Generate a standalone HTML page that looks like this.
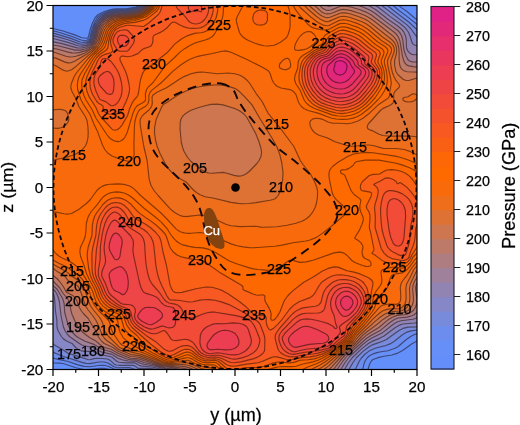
<!DOCTYPE html>
<html><head><meta charset="utf-8"><title>Pressure map</title>
<style>html,body{margin:0;padding:0;background:#fff}svg{display:block}text{font-family:"Liberation Sans", sans-serif;fill:#000;stroke:#000;stroke-width:0.25px}</style></head><body>
<svg width="520" height="425" viewBox="0 0 520 425">
<rect width="520" height="425" fill="#fff"/>
<defs><clipPath id="pc"><rect x="53" y="5.5" width="364" height="364"/></clipPath><filter id="sb" x="-2%" y="-2%" width="104%" height="104%"><feGaussianBlur stdDeviation="0.35"/></filter></defs>
<g clip-path="url(#pc)">
<g filter="url(#sb)">
<rect x="53" y="5.5" width="364" height="364" fill="#648ffa"/>
<path fill="#668ff8" fill-rule="evenodd" d="M140.6,4.5 141.6,3.5 396.8,3.5 401,7.4 407,11.5 414,17.5 419,21.2 419,339.9 412,343.7 402.6,350.5 397,353.4 392,355 384,356.3 379,357.4 373,359.5 371.7,360.5 370,363.2 368.8,366.5 367.6,371.5 114.3,371.5 109,369.3 104,368.4 100,368.4 89,369.6 83,369.3 76,367.8 64,363.8 60,363.1 53,362.9 51,362.4 51,28 63,31 74,34.6 82,37.7 87,38.3 88,37.7 88.5,36.5 90.5,28.5 93.1,21.5 96,16.5 99,14 105,11.3 110,9.9 116,8.9 124,9.1 128,8.6 137,6.7 139,5.8 140.6,4.5Z"/>
<path fill="#6c8dee" fill-rule="evenodd" d="M142.9,3.5 390.9,3.5 398,9.7 407,16.4 419,26 419,333.3 415,334.3 410.6,336.5 406,339.8 398.2,346.5 395,348.3 388,350.7 381,351.7 377,352.6 373,353.9 369.9,355.5 367.5,357.5 365.3,360.5 364.1,363.5 362.8,369.5 361.8,371.5 133.1,371.5 128,370.2 120,370.2 116,369.7 114,369.1 108,366.2 104,365.3 100,365.3 90,366.7 84,366.4 78,364.9 68.1,361.5 55,358.6 51,357.3 51,30.4 56,31.5 62,33.2 72,36.5 81,40 84,40.5 87,40.3 89,39 89.9,37.5 92.1,28.5 94.9,21.5 97.4,17.5 100,15.2 106,12.2 113,10.3 117,9.8 126,9.8 136,8 139.8,6.5 142.9,3.5Z"/>
<path fill="#788ada" fill-rule="evenodd" d="M143.3,4.5 144.1,3.5 385.1,3.5 393.5,10.5 409.3,22.5 419,31.6 419,329.7 411,330.9 407,332.1 402.8,334.5 394,341.5 390,343.9 386,345.5 375,348.3 369,351.1 364.6,354.5 361,358.5 359.1,361.5 356.3,367.5 353.8,371.5 159.1,371.5 154,370.4 151,370.1 146,370.2 139,370.7 137,370.4 132,368.2 130,367.7 127,367.5 119,367.8 116,367.5 113.4,366.5 108,363 104,362 99,362 90,363.6 85,363.2 63.6,356.5 56,353.5 51,351 51,32.8 55,33.6 70,38.1 80,42 84,42.4 87,41.9 89,40.8 90.8,38.5 93.5,28.5 95.4,23.5 98,19.1 101,16.2 107,13.1 113,11.3 117,10.8 127,10.5 137,8.7 140,7.4 143.3,4.5Z"/>
<path fill="#8587c6" fill-rule="evenodd" d="M144.5,4.5 145.3,3.5 379.1,3.5 392,13.6 405,23.2 410.6,28.5 416,35.8 419,38.6 419,326.2 416,326.9 408,327.1 403,328.4 399,330.5 386,339.7 382,341.5 373,344.6 369.5,346.5 363,351.4 356.6,357.5 353,362.5 347.8,371.5 167.8,371.5 162,370.7 152,368.6 146,368.3 139,368.4 138,368.2 135,366.1 133,365.3 119,365.3 116,365 114,363.9 110,360.2 108,359.3 105,358.7 97,358.2 94,358.6 90,359.7 87.8,359.5 76,355.6 69,353.8 62,349.3 55,345.3 52.7,343.5 51,341.2 51,35.3 55,36.1 68,39.8 79,43.9 83,44.2 86,43.8 89,42.3 91.5,39.5 92.4,37.5 94.7,28.5 96.3,24.5 99.4,19.5 102.9,16.5 108,13.8 113,12.3 117,11.8 127,11.4 137,9.6 141,7.8 144.5,4.5Z"/>
<path fill="#9184b2" fill-rule="evenodd" d="M145.8,4.5 146.5,3.5 372.4,3.5 379,7.8 390.1,16.5 401,24.3 406,28.7 407.4,30.5 409.1,33.5 412.5,43.5 414,44.8 419,46.1 419,321.7 417,322.6 415,323 405,323.7 402,324.3 399,325.4 395,327.8 384,336 380,338.1 372,341.4 368.4,343.5 361,349.4 352.4,357.5 348,363.5 343.4,371.5 175.7,371.5 171,370.5 162,369.5 153,367.2 141,365.9 139,365.2 135,362.9 126,362.9 121,362.5 118,361.9 116,360.9 112.4,357.5 110.2,356.5 99.7,354.5 97,353.5 93,351.3 91,351.2 85,351.5 83,351.2 80,350.2 76,347.7 72,343.4 65.6,340.5 64,339.4 62.1,337.5 58.4,331.5 57.2,328.5 56.8,325.5 56.9,320.5 55.4,310.5 54.6,298.5 54,295.5 53.1,293.5 51,291.5 51,38.2 55,39 67,42.1 78,45.8 82,46.1 86,45.4 89.5,43.5 92.2,40.5 93.2,38.5 95.6,29.5 97.1,25.5 100.2,20.5 103.5,17.5 108,15 113,13.4 117,12.7 128,12.1 137,10.5 140,9.3 142,8.1 145.8,4.5Z"/>
<path fill="#9f819b" fill-rule="evenodd" d="M147,4.5 147.8,3.5 364,3.5 370,6.2 375.5,9.5 388,19.2 397,25.5 401,28.7 403.5,31.5 405.4,35.5 406.3,39.5 406.5,47.5 407,49.3 408,51.2 410,53.3 412,54.4 414,54.7 419,54.5 419,316.2 416,318.2 413,319.3 401,320.8 397,322 393,324.5 382,333.1 371,338.6 367,341.1 363,344.3 349.6,356.5 345.1,362.5 339.6,371.5 181.8,371.5 172,369.3 162,368.3 154,366 144,364.3 141,363.5 136,361.3 127,360.9 120,359.2 118,358.2 113,355 111,354.1 101,351.7 93,347.5 85,346 81,344.5 69.5,336.5 67,333.8 64.9,330.5 63.3,326.5 61,315.5 59.5,302.5 58.6,298.5 57.1,294.5 55.4,291.5 53.5,289.5 51,287.9 51,41.3 62,43.6 77,47.9 82,48 86,47 90,44.8 93,41.5 94.3,38.5 96.8,29.5 98,26.4 101,21.5 104.2,18.5 109,15.8 113,14.5 118,13.7 129,12.9 134,12.1 138,11 141,9.8 143,8.5 147,4.5Z"/>
<path fill="#ae7d82" fill-rule="evenodd" d="M149,3.5 323.6,3.5 326,5.4 329,6.1 332,5.6 337.3,3.5 352,3.5 363,7 368,9.2 372,11.3 376,14 386,21.9 397.8,30.5 400.4,33.5 401.9,36.5 402.9,40.5 403.7,48.5 404.4,51.5 406,56 407.9,59.5 409,60.7 411,61.6 414,62 419,61.9 419,309.3 417.6,311.5 416,313.2 414,314.7 412,315.7 407,317.1 398,318 394.4,319.5 389.9,322.5 381,329.9 371,335.4 366,338.7 347.4,355.5 342.6,361.5 335.8,371.5 187.7,371.5 183,370 177,368.8 171,367.9 165,367.6 161,366.9 154,364.8 144,362.5 137,360 130,359.6 125,358.3 119,355.9 111,351.8 102,349.3 94,344.4 85.8,341.5 79.7,338.5 76.6,336.5 73.5,333.5 71.1,330.5 69,327 67.9,324.5 64.7,312.5 64.3,304.5 63,299.5 59.3,292.5 57.3,289.5 55.3,287.5 51,284.2 51,44.7 59,46 75,50.1 81,50.1 86,48.7 89,47.1 91,45.6 93.8,42.5 95.2,39.5 98,29.7 99,27.1 102,22.3 104.9,19.5 110,16.6 114,15.4 118,14.7 131,13.5 135,12.8 139,11.6 142,10.2 144.4,8.5 146.5,6.5 149,3.5Z"/>
<path fill="#be7a69" fill-rule="evenodd" d="M149.5,4.5 150.3,3.5 317.9,3.5 324,9.4 326,10.1 328,10.4 332,9.7 338,7 341,6.2 345,6 350,6.7 362,10.5 370,14.1 375,17.5 384,24.7 394.5,32.5 397.4,35.5 399.4,39.5 400.7,44.5 402.5,56.5 404,61.3 405,63.2 407,65.1 409,65.9 413,66.6 419,67.1 419,279.8 416.8,283.5 415.7,286.5 415.7,289.5 417,299.5 416.6,304.5 415.4,307.5 414.1,309.5 410.7,312.5 408,313.8 405,314.6 397,315.4 391.8,317.5 387,320.6 378.9,327.5 370,332.8 365,336.4 361,340 354,347.2 345.6,354.5 340.4,360.5 334,368.9 331.6,371.5 192.8,371.5 187.9,369.5 183,368.2 170,366.6 165,366.5 161,365.8 138,358.7 131,358.2 128.2,357.5 118,353.2 111,349.3 104,347.2 102.4,346.5 95,340.4 88.1,336.5 81,330.7 77.1,325.5 74,319.2 71.4,312.5 69.7,303.5 68,299.5 63.9,294.5 59,287.1 53.5,281.5 51,279.4 51,48.1 57,49 68,52.1 72,52.9 75,53 79,52.6 85,50.9 88,49.4 91,47.3 94.6,43.5 96.2,40.5 99,30.8 100.3,27.5 103,23.2 106,20.4 110,17.9 114.1,16.5 119,15.6 132,14.3 139,12.5 142,11.2 144.6,9.5 146.9,7.5 149.5,4.5Z"/>
<path fill="#cd7650" fill-rule="evenodd" d="M150.8,4.5 151.6,3.5 312.5,3.5 321.2,11.5 324,13.1 326,13.7 328,13.9 331,13.5 339,10.2 342,9.5 346,9.6 350,10.3 361,13.8 369,17.5 374,21 393,36.1 395,38.2 396.5,40.5 398.4,45.5 399,50.5 399.3,62.5 400,66 401.2,68.5 403,70.2 406,71.5 419,72.2 419,273.7 414.5,281.5 413,285.5 412.6,289.5 413.4,299.5 413.2,302.5 412.6,304.5 411.7,306.5 410.3,308.5 408,310.5 406.2,311.5 403,312.6 397,313.2 393,314.1 389.3,315.5 386,317.3 382.8,319.5 375.6,325.5 366,332.6 361,336.9 352.3,346.5 344,353.5 332,366.7 326.7,371.5 197.7,371.5 190,368.1 186,366.9 181,366.2 167,365.6 163,365.1 160,364.4 154,362.2 140,357.6 137,357 132,356.8 130,356.3 118,351.1 112,347.1 105,344 101.9,341.5 98.9,337.5 96.4,331.5 92.3,325.5 88.2,318.5 83.4,313.5 81,310.5 79.4,307.5 76.7,300.5 75,297.7 72.7,295.5 67,292.5 66,291.5 63.3,286.5 58.8,280.5 56.9,278.5 53,275.5 51,273.5 51,51.9 55.1,52.5 66,56.2 70,57 73,56.8 76,56.2 81,54.6 85,53 91,49.1 93.9,46.5 95.5,44.5 97.7,40.5 101.4,28.5 104,24.3 107,21.4 111,18.9 115,17.5 120,16.6 132,15.2 140,13.1 143,11.7 145,10.4 148.2,7.5 150.8,4.5Z"/>
<path fill="#de7234" fill-rule="evenodd" d="M152.9,3.5 307.4,3.5 310.2,6.5 319,14.1 322,16 325,17.3 327,17.6 330,17.3 339,13.6 342,12.9 346,13 351,14.1 362,17.9 369,21.6 391,39 394,42 395.9,45.5 396.7,49.5 396.4,53.5 394.6,60.5 394.7,66.5 396,71.7 397,73.5 399,75.9 403,79.2 406,80.5 409,80.5 416,78.3 419,78.5 419,268.4 417,270.5 415.7,272.5 410.2,284.5 409.5,289.5 409.9,299.5 409.1,303.5 408.2,305.5 406.8,307.5 405,309 403,310.1 400,311 394,311.4 389,312.4 384.1,314.5 380,317.2 360.5,334.5 358,337.1 353.9,342.5 351,345.6 342.7,352.5 329,365.6 321.2,371.5 203.7,371.5 199,369.8 191,366.3 187,365 182,364.6 169,364.7 164,364.2 160,363.2 141,356.1 138,355.4 133,355 130.9,354.5 118.8,349.5 113,344.8 107,340.8 105,338.9 102,334.5 98.5,325.5 96,320.5 93.4,316.5 87.8,309.5 85.8,306.5 84.1,302.5 80.2,290.5 78.2,286.5 77,285.5 70,282.1 68,280.3 64,275.3 58,272.1 53.4,268.5 51,267.2 51,57.1 56,58.1 65,62.1 68,62.9 71,62.7 75,61 87,54 92,50.1 95.7,46.5 97.3,44.5 98.9,41.5 102,31.5 103.2,28.5 106,24.5 109,21.8 113,19.6 117,18.3 133,16 141,13.7 144,12.2 147,10 150.6,6.5 152.9,3.5ZM211,104.4 206,105.5 198.8,107.5 191,110.3 188,111.9 185,113.9 183,115.8 181.8,117.5 180.9,119.5 180.2,122.5 180,128.5 181.3,142.5 182.6,147.5 184.1,151.5 187.6,157.5 191,161.5 201,169.5 206,172.4 209,173 212,173.2 223,172.4 226,173 234,175.4 238,176.1 241,176 244,175 246.6,173.5 249.2,171.5 256.9,163.5 259.1,160.5 261,156.4 261.6,152.5 261,148.5 258.9,141.5 255.7,133.5 246.9,117.5 244.4,114.5 241,111.8 238,110 234,108.2 223,104.9 217,104.1 211,104.4Z"/>
<path fill="#ee6e1c" fill-rule="evenodd" d="M153.7,4.5 154.3,3.5 302.4,3.5 308,9.2 316,16.1 320,19 324,21.1 327,21.7 329,21.4 339,17 341,16.5 344,16.3 347,16.7 351,17.7 358,20.1 363,22.2 366,23.8 370,26.5 382,36.5 390,42.2 392,44.1 393.6,46.5 394.2,48.5 394.2,51.5 390.9,60.5 390.7,63.5 391,66.5 392.1,71.5 393.5,75.5 396,80.4 399.2,84.5 399.6,85.5 399.5,86.5 399,87.5 395,91.3 394,93.1 393.6,95.5 393.9,100.5 393.2,102.5 392.5,103.5 389.7,105.5 383,108.4 380.4,110.5 368.7,123.5 367.5,125.5 367.3,127.5 367.7,128.5 369,129.5 372,130.6 379,134.2 383,135.5 390,136.3 401,135.9 412,136.2 416,136.8 419,138 419,264.2 415.5,267.5 413.8,269.5 410,277.8 406.9,283.5 406.3,285.5 405.9,288.5 406.1,297.5 405.9,300.5 405.1,303.5 403.1,306.5 401,308.1 399,308.8 392,308.7 387,309.4 383,310.8 380,312.7 373,318.9 366.9,325.5 358.7,333.5 356.9,335.5 352.7,341.5 349,345.4 327,363.7 322,367.2 314.7,371.5 212.8,371.5 210,370.5 202,368.7 191,363.9 187,362.8 183,362.7 171,363.8 167,363.6 163,362.8 142,354.6 139,353.7 132,352.4 126,349.9 121,348.2 118.5,346.5 109.6,337.5 107,334.5 105,331.6 104,329.5 102.8,323.5 101.5,320.5 99.6,317.5 93.1,309.5 90.3,305.5 88.6,301.5 85,290.1 83,286 81,283.1 78,280.3 72,276.3 66,271.4 51,263.1 51,128 58,128.4 61,127.8 63,126.9 65.1,125.5 67.1,123.5 68.3,121.5 68.8,119.5 68.6,117.5 67.5,113.5 66.4,111.5 65,110.5 62,109.6 59,109.2 51,110.1 51,64.4 53,64.7 55.4,65.5 62,69.6 65,70.8 67,71.1 69,70.8 72,69.5 76,66.4 90,53.9 97.7,46.5 99.1,44.5 100.7,41.5 103.5,32.5 104.7,29.5 106.6,26.5 109.6,23.5 113,21.2 117.3,19.5 122,18.5 133,17 142,14.4 145,12.8 148,10.5 151.3,7.5 153.7,4.5ZM209,85.4 202,86.3 196.2,87.5 191,89 186,91 180.8,93.5 174,97.5 167,102.6 164,104.1 162,106.3 156.1,119.5 154.6,127.5 154.5,132.5 155.4,139.5 157.2,146.5 160,153.5 165,163.2 169.1,169.5 174,174.6 178,177.5 186,181.9 192.9,189.5 196.4,192.5 200,194.7 205,196.7 214,198.3 231,202.4 238,203.4 243,203.7 249,203.5 256,202.6 270,200.3 273,199.5 275,198.7 276.5,197.5 278.2,195.5 280,191.5 282.6,180.5 283,172.5 281.9,163.5 279.8,154.5 277.2,147.5 272.3,138.5 259.9,118.5 252,104.9 245,97.1 239,91.2 236.8,89.5 234,88.1 227,86 218,84.8 209,85.4ZM411.5,94.5 413,93.9 415,94 416.1,94.5 417,95.5 417.2,96.5 416.8,98.5 414.7,100.5 412,101.6 408,102 405,101.4 403.6,100.5 403,99.8 402.8,98.5 404,97.5 408,96.8 411.5,94.5Z"/>
<path fill="#f96b0a" fill-rule="evenodd" d="M155.8,3.5 296.8,3.5 300.2,7.5 310.2,16.5 316,21.1 321,24.2 325,25.7 328,25.8 331,24.7 338,20.9 342,19.8 347,20.2 354,22.3 361,25.1 366.9,28.5 380.1,39.5 389,45.4 390.2,46.5 391.4,48.5 391.6,49.5 391.4,51.5 388.2,58.5 387.4,61.5 387.8,65.5 390.7,78.5 391.3,83.5 389.8,91.5 389.6,95.5 389,97.1 388,98.2 379,104.2 370,112.7 363,118.3 358,121 353,122.7 350,123.5 347,123.8 340,123.2 333,123.2 328,122 321,118.8 316,118.2 313,118.9 311,120.2 309.8,122.5 309.8,124.5 310.8,127.5 312,129.6 314,132 317,134.3 321,136 327,137.7 334,141.3 345,144.9 349,145.8 354,146.3 364,145 369,145 374,145.8 383,148.4 395,148.5 401,149 405,149.8 409,151.1 419,155.8 419,260.2 416,262.9 412.1,267.5 407,275.3 402.8,280.5 401.6,282.5 400.8,284.5 400.3,287.5 400.8,296.5 400.6,299.5 400.1,301.5 399,303.2 398,303.9 396,304.4 390,304 387,304.2 383,305.1 381,306.1 379,307.9 370,318.1 364.8,324.5 357,332.6 355,335.2 351.7,340.5 347.9,344.5 337,353.4 325,362 320,365.1 307.4,371.5 217.9,371.5 215,369.1 213,368.1 205,367.1 202,366.4 198,364.8 191,361.4 188,360.4 184,360.5 171,362.8 168,362.7 164,361.8 160.3,360.5 143,352.8 133,349.7 123,345.6 121.3,344.5 119.4,342.5 113.2,333.5 111.4,329.5 110,323.5 108.7,320.5 106.9,318.5 98.6,310.5 96.1,307.5 94,304.5 92.2,300.5 90,293.3 88.5,289.5 85.3,283.5 82,278.9 78,274.9 72,270.8 68,267.7 65,266 59.3,263.5 53,259.9 51,258.3 51,161 56,159.5 64,157.9 71,156 74.9,154.5 78.4,152.5 82.4,149.5 85.1,146.5 86.9,142.5 88,137.5 88.2,133.5 88.1,128.5 87.4,122.5 86.7,119.5 85,116 79.4,107.5 77.6,103.5 75.4,97.5 72.5,92.5 71.2,89.5 70.8,87.5 71.2,84.5 73.8,77.5 76.7,72.5 84,63.9 87.3,59.5 100.6,45.5 102.6,41.5 106.3,30.5 108.2,27.5 111,24.6 114,22.4 118.5,20.5 123,19.5 134,17.9 143,15.1 147,12.7 152,8.5 153.9,6.5 155.8,3.5ZM197,72.4 191,73.8 184,76.6 179,79.4 166.9,87.5 157,92.3 154,94.2 152.7,95.5 152,97 152.3,103.5 151.8,105.5 151,107.4 149,110 143,115 141.2,117.5 140.3,119.5 140,121.5 140.3,125.5 143.8,146.5 147.1,160.5 149.2,179.5 151,185.5 154,190.5 158.1,195.5 170,208.7 175,212.7 179,215 182,216.1 186,216.6 200,215 205,215.5 213,218.2 226.3,224.5 231,225.8 240,226.6 256,226.2 261,227.1 264,227.3 277,226.7 287,225.3 296,223.3 302,221.3 306.8,218.5 310.1,215.5 313,211.6 315,207.8 316.4,203.5 317.4,197.5 317.6,191.5 317,188 315,182.5 310.8,174.5 303,164.5 300.3,160.5 293.9,146.5 279.8,127.5 268,113.1 262.1,101.5 256,93.3 249.8,83.5 247,80.2 243.9,77.5 240,75.3 235,73.7 228,73 217,73.7 205,72.2 201,72.1 197,72.4Z"/>
<path fill="#ff6a00" fill-rule="evenodd" d="M156.7,4.5 157.2,3.5 291.9,3.5 296,10.4 299,14.3 308,24.3 310,26.1 312,27.4 314,28.1 321,29.8 325,30 328,29.5 330,28.8 337,24.9 340,23.6 344,23.3 348,24 357,27.1 363,30 367.8,33.5 378,42.2 386.2,47.5 387.7,49.5 387.9,51.5 387.3,53.5 384.6,59.5 384.2,61.5 384.5,63.5 386.5,71.5 387.3,77.5 387.2,82.5 386,87.3 383.5,92.5 381.5,95.5 379,98.5 370,107.6 361,114.6 356,117.1 349,119 341,119.4 335,118.9 330,117.7 317,112.8 308,110.5 303.8,108.5 301.4,106.5 299.2,103.5 298.3,101.5 296,94.6 294,92 292,90.5 289,89.3 282,88.2 279.4,87.5 277,86.3 275,84.5 272.4,80.5 270,73.3 267.8,70.5 264.7,68.5 255.1,63.5 233,53 228,51.2 224,50.9 198,56.4 193,58 189,59.8 185,62 180,65.5 173,71.1 161.5,82.5 152.7,89.5 150.7,91.5 149.5,93.5 149,94.9 148.8,100.5 148,103.5 146,106 140.1,109.5 139,110.5 137,114.2 135.6,118.5 134.8,122.5 134.4,127.5 133.9,143.5 134.2,153.5 133.8,155.5 133,157.7 131,160.2 130,160.8 128,161.2 124,160.4 117,158.1 112,156 108.3,153.5 105.5,150.5 103.2,146.5 98,132.6 94,124.2 90.1,114.5 83,103.5 80.4,98.5 78.2,91.5 77.4,87.5 77.4,83.5 78.1,79.5 79.2,76.5 80.8,73.5 90.2,59.5 94.2,54.5 100.6,48.5 103,45.5 104.7,41.5 107.8,31.5 109.8,28.5 112.7,25.5 116,23.2 120,21.5 124,20.5 134,19.2 144,16.1 147,14.3 154,8.6 155.7,6.5 156.7,4.5ZM287,58.3 285,58.9 283,60.2 280,63.5 279.3,65.5 279.3,66.5 279.6,67.5 280.7,68.5 283,69.4 286,69.6 288,69.1 290,67.5 290.5,66.5 290.7,64.5 290,61.2 289,59.2 288,58.4 287,58.3ZM308,31.5 306,32 303,33.6 300.8,35.5 298.3,38.5 296.1,42.5 294.9,45.5 294.5,48.5 295,49.7 296,50.3 299,50.4 304,49.6 307,48.7 310,47 314.4,43.5 316.3,41.5 316.7,40.5 316.5,38.5 315.6,36.5 314,34.3 311,31.8 308,31.5ZM364.3,152.5 368,152.4 373,152.8 398,156.7 403,158 408,159.8 419,164.7 419,255.8 415,259.5 410,266.3 407,269.6 405,271.3 402,272.9 394,274.2 391.7,275.5 390.1,278.5 387.7,286.5 386.3,289.5 384.6,291.5 378,296.4 376.5,298.5 375.4,305.5 374.2,308.5 372.4,311.5 364,322.3 356,331.1 354,333.9 350.7,339.5 348,342.6 336,352.2 324,359.9 318,363.1 308,366.9 300,370.7 296,371.1 286,370.9 279.6,371.5 221.8,371.5 217,366.7 215,365.3 213,364.8 206,364.9 202,364.2 198,362.6 191,358.6 189,357.8 187,357.7 184,358.1 171,361.7 169,361.7 166,361 160,358.7 136.9,347.5 133.3,345.5 126,340.3 124,338.5 122.4,336.5 120.7,333.5 119.4,330.5 117.5,320.5 117,318.9 116.1,317.5 114.7,316.5 109,314 105,311.6 101,308.3 98,304.7 95.2,299.5 92.7,291.5 91,287.9 84,275.8 79,268.7 75,264.9 71,262.1 61.2,257.5 58.1,255.5 55,252.6 51,247.6 51,212.7 53,212.1 56,212.1 64,213.8 67,214.1 70,213.8 73,212.8 80,208.5 88,202.1 91,198.7 96,191.5 100,187.7 103,185.9 106,184.9 109,184.3 113,184 119,183.9 124,184.4 128,185.4 132,187.4 135,189.8 141,195.8 161,213 166,218 176,228.9 179,231 183,232.6 188,233.3 199,232.6 204,233.1 212,235.6 227,242.3 233,244.5 241,246.6 249,247.6 255,247.6 274,246.3 281,245.3 293,242.7 305,241.2 310,240 317,236.9 323,232.9 343,216.5 344.7,214.5 345.6,212.5 345.8,210.5 345.7,209.5 344.6,207.5 342.9,205.5 336,199.4 334,196.9 332.8,194.5 330,182.3 329,175.5 329.3,171.5 330.8,168.5 332.6,166.5 338,162.3 349,155.8 355,153.8 364.3,152.5Z"/>
<path fill="#fe6706" fill-rule="evenodd" d="M158.8,3.5 223.8,3.5 223.1,14.5 222.3,18.5 216,31.7 214.2,34.5 212.4,36.5 210,38.1 207,39.4 198,42 194,43.4 186,47.8 180,52.1 173.6,58.5 164.6,66.5 153.1,82.5 148,87.4 146.6,89.5 145.4,93.5 145.6,99.5 145,101 143.2,102.5 138,105.2 136.5,106.5 135,108.5 133,113.2 127.2,132.5 125,137.1 123,139.5 121,140.9 118,141.6 115,141.1 113,140.3 111,139.1 109,137.3 107,134.8 97,119.9 95,116.3 91.4,108.5 85.7,99.5 83.6,94.5 82,88.5 81.7,83.5 81.9,80.5 82.5,78.5 85.3,72.5 91.6,61.5 94.2,57.5 97,54.2 103,49.2 105,46.8 109.4,32.5 111,29.9 114,26.7 117,24.5 121.8,22.5 125,21.8 134,20.7 145,17.3 148,15.4 155.6,9.5 157,7.6 158.8,3.5ZM244.3,4.5 245.3,3.5 285.2,3.5 286,4.1 288,6.3 288.9,8.5 289.8,12.5 290.2,16.5 290.2,24.5 289.9,28.5 288.1,34.5 286.5,37.5 282,41.3 277,44.1 273,45.5 268,46 263,45.6 257,44 249,40.7 244,37.8 241,34.9 239.4,32.5 236.2,20.5 236.5,18.5 237.8,15.5 242,7.5 244.3,4.5ZM338.8,27.5 342,26.7 346,27.1 354,29.6 360,32.2 365,35.6 375.5,44.5 382,48.7 383.5,50.5 384,52.5 383.6,54.5 381.2,60.5 381.3,62.5 383.9,70.5 384.6,76.5 384.4,79.5 383.9,82.5 381.8,87.5 375.3,97.5 370,103.4 366,107 360,111.4 356,113.5 351,115.2 345,116.2 338,116 332,114.9 314,108.2 309,105.5 306,102.7 304,99.7 300.3,90.5 295.7,83.5 294.5,79.5 295,75.5 297.6,68.5 298.3,61.5 299.1,59.5 300.4,57.5 303,55.2 310,51.2 314,48.2 321.4,44.5 322.5,43.5 323.1,42.5 323.2,38.5 324,36.5 324.8,35.5 327,33.9 338.8,27.5ZM361.9,160.5 366,160.1 380,160.2 397,163.4 403,165.2 411.2,168.5 416,171.3 419,174.1 419,250.7 416.6,253.5 413,257 411.5,260.5 410,262.7 408,264.9 405,267.2 403,267.9 401,268.1 395,267.1 392,267.2 385,268.8 383,269.5 381.6,270.5 381,272.5 381.9,279.5 381.4,283.5 380,286.2 376,291.4 374.3,294.5 373.2,298.5 372.7,303.5 372,306.5 370.8,309.5 369,312.5 363,320.4 355,329.6 350,338.1 347.2,341.5 335,351.2 323,358 315,361.3 303,364 296,366.2 292,366.6 283,366.5 279,366.8 275,367.6 264,370.8 258.2,371.5 247,371.2 243,371.5 226.8,371.5 225,370.7 223.3,369.5 218.6,364.5 216,362.6 214,362.2 207,362.9 202,362.1 198,360.3 191,355.6 189,354.9 187,354.9 184,355.5 172,360 170,360.3 168,360 162,357.8 151.9,352.5 143.7,347.5 139.5,344.5 137.6,342.5 134,337.3 128.4,333.5 125.6,330.5 123.5,326.5 121,317.5 119.2,314.5 117.5,313.5 110,310.9 106,308.6 102,305.1 98.7,300.5 97.3,297.5 94.7,289.5 89.3,279.5 86.2,272.5 83.7,264.5 80.3,255.5 79.8,252.5 80,249.5 80.8,246.5 84,239.8 85,236.8 85.8,232.5 86.5,222.5 87.5,218.5 89.4,214.5 92.1,210.5 97,204.8 100.8,199.5 103,197.1 105,195.5 108,193.7 111,192.6 114,192 119,192 124,193 128,194.8 132,197.5 144,208.3 155,216.8 161,221.9 167,228.5 170.7,234.5 174,238.7 177,241.6 180,243.6 184,245.2 190,246.6 195,247.4 203,247.9 209,249.4 215.7,252.5 226,259.1 230,261.2 238,264.3 250,268 255,269.1 263,270 270,270.3 275,269.9 279,268.5 286,262.5 288,261.1 290,260.3 293,260.4 300,262.4 306,261.9 313,260.2 334,252.9 339,252.1 342,252.4 345,253.7 347,255.4 351.9,260.5 356,263 365,266.2 368,266.5 370,266 370.7,265.5 371.1,264.5 371.1,263.5 370.3,261.5 369,260.3 365,258.5 363.8,257.5 362.5,255.5 362,252.5 363,247.5 362,244.3 360,241.9 355,238.5 354.8,237.5 359,230.9 362,224.2 363.2,220.5 363.2,217.5 360.6,211.5 359.8,208.5 359.9,205.5 360.9,200.5 360.5,199.5 359.6,198.5 355,195.3 352.4,192.5 350.6,189.5 345,175.7 344,174.5 342,173.8 341,173 340.4,171.5 340.6,170.5 341,170.2 346,169.6 350,167.8 353,165.5 355,162.6 356,161.9 361.9,160.5Z"/>
<path fill="#fa6013" fill-rule="evenodd" d="M160.9,3.5 217.9,3.5 217.6,11.5 216.8,15.5 215.8,18.5 214,22.4 212,25.7 210,28.2 208,30 206,31.2 203,32.3 196,33.1 191,34.5 185.7,36.5 182.1,38.5 175.4,43.5 167.4,52.5 158.5,59.5 154,63.8 147.8,67.5 145,69.7 143,72.6 141,78.2 140,82.3 138.8,91.5 138,94.9 137.2,96.5 133.7,100.5 131.4,104.5 129.7,108.5 128,114.5 127,116.8 122,125.1 119.1,128.5 117.7,129.5 116,130.1 114,130.1 113,129.8 111,128.1 100,116 98.5,113.5 95.9,107.5 90.7,99.5 88.5,95.5 86.7,90.5 85.7,84.5 85.9,80.5 87.4,75.5 90.1,69.5 94.8,60.5 96.7,57.5 99.6,54.5 105.7,50.5 107.5,48.5 108.1,46.5 108.6,41.5 110.5,34.5 111.9,31.5 114,29 118,25.9 123,23.9 127,23.1 135,22.4 144,20.1 146,19.2 148,18.1 157,11 158.6,8.5 159.5,5.5 160.9,3.5ZM257.7,10.5 261,9.9 264,10.3 266.2,11.5 267.5,13.5 267.4,20.5 266,23.2 264,24.5 261,25.1 257,24.7 254.8,23.5 253.3,21.5 252.7,18.5 253.5,14.5 255,12.3 257.7,10.5ZM339.8,30.5 343,30.1 346,30.6 353,32.8 358,35 362,37.6 371.4,45.5 379,50.9 380.1,52.5 380.2,54.5 378.3,59.5 377.8,61.5 378.1,62.5 381.2,68.5 381.8,71.5 382.1,74.5 381.5,80.5 380.5,83.5 379.1,86.5 377,90.1 373.2,95.5 366,103.5 361,107.6 355,110.7 348,112.8 342,113.6 336,113 329,111.1 318,107.1 314.9,105.5 312,103.4 308.2,99.5 305,94.1 300,83.5 299.2,80.5 298.9,77.5 299.2,73.5 300.9,64.5 302,61.5 304.1,58.5 307.5,55.5 314,50.7 321,47.6 322.7,46.5 325,43.7 327,38.9 329,36.6 335,32.7 339.8,30.5ZM385.5,170.5 390,169.6 395,169.9 401,171.3 405.9,173.5 408.8,175.5 411.8,178.5 419,189.5 419,241.6 416.7,247.5 412,254.7 409.9,259.5 407,262.4 404,263.8 401,264 386,262.2 382,260.4 375,255.1 372,253.5 372.3,252.5 373.8,250.5 374,249.5 370.4,231.5 369.5,228.5 369.4,225.5 370,218.5 369.8,214.5 369,211.9 366.8,208.5 366.3,206.5 367,204.5 371.1,196.5 371.7,193.5 371.1,192.5 370,192.1 364,191.2 361.7,190.5 360.8,189.5 360.4,188.5 360.5,185.5 361.2,183.5 362.6,181.5 369,175.8 371,174.9 373,174.4 378,174.2 380,173.8 385.5,170.5ZM111.6,198.5 115,197.8 119,197.9 123,198.9 126,200.4 131,204.3 137,210.8 140,213.6 152,221.9 157,225.8 162,230.5 165.5,234.5 166.4,236.5 169.3,245.5 170.6,248.5 173,251.7 177,255 181,256.7 189,258.6 193,259.3 200,259.9 202.3,260.5 205.8,262.5 219,271.9 241.9,285.5 242.8,286.5 243,289.5 244,290.1 253,294 256,295 258,295.3 263,294.8 264.5,295.5 264.9,296.5 264.8,299.5 265.2,301.5 269,307.9 270.6,311.5 271.2,314.5 270.8,318.5 271,319.5 272,320.2 273,320.3 274,319.9 275.5,318.5 277,316.6 280,311.8 283.1,303.5 285,299.5 288,295.5 293,290.6 303.4,282.5 314,276.5 322,271.3 328,268.4 334,266.9 338,267.1 347,270.8 354,272.1 360,273.9 368,277.5 370,278.7 372,280.5 372.9,282.5 372.9,284.5 371.2,293.5 370.3,303.5 368.8,308.5 367.2,311.5 363.7,316.5 353.6,328.5 349,337.1 346,340.7 336,348.8 333,350.8 322,356.2 318,357.8 314,358.9 308,359.8 300,360.2 295,362.1 291,362.8 287,362.8 280,362 277,362.2 273,363.1 264,366.2 260,367.2 256,367.5 246,367.6 237,369.2 233,369.5 229,369.1 226,368 219.9,362.5 218,361.3 216,360.5 214,360.3 209,360.9 206,360.9 201,359.7 197.1,357.5 192,353.5 189,352.3 187,352.1 184,352.7 174,357.3 171,358.3 168,358.1 165,357.1 161.8,355.5 153.5,350.5 146.4,345.5 142,341.5 136.9,335.5 130,329.7 127,325.6 123.6,316.5 122.5,314.5 121,312.9 118.7,311.5 110,307.9 107,306 104,303.4 101.7,300.5 100,297.5 96.7,288.5 92.5,280.5 90.4,275.5 88.7,268.5 87.4,258.5 87.2,253.5 88.1,247.5 91.9,235.5 92.3,225.5 93.2,220.5 94.6,216.5 96.2,213.5 102.9,204.5 107,200.7 109,199.5 111.6,198.5Z"/>
<path fill="#f85920" fill-rule="evenodd" d="M163.5,4.5 164.9,3.5 212.9,3.5 213.3,7.5 213,11.5 212.1,15.5 210.9,18.5 208.4,22.5 205,25.7 201.2,27.5 197,28.3 191,28.4 186,27.6 182,26.1 175,22.2 173,22 171,23.4 167.3,27.5 164,30.3 161,32.1 155.5,34.5 153.9,35.5 153.2,36.5 153,37.5 152.9,41.5 152.4,43.5 151.3,45.5 150.3,46.5 144,48.6 141,50.6 138,53.6 132,56 128,56.7 123,56.1 122,56.1 121,56.5 120.2,57.5 119.9,58.5 120.2,60.5 125.6,71.5 127,75.5 128.9,83.5 129.6,88.5 129,93.5 127.7,97.5 125.2,103.5 122,109.9 120,112.3 118,113.6 115,114.2 110,114.2 107,113.4 105,112.1 103.6,110.5 103.3,109.5 103.1,106.5 102.5,105.5 98,102.8 94.2,97.5 91.7,92.5 90.1,86.5 89.8,81.5 90.9,75.5 92.8,70.5 95.7,65.5 98,59.9 99.7,57.5 102,55.7 105,54.4 111,52.8 112.3,51.5 112.6,50.5 112.4,49.5 110.6,43.5 110.6,40.5 111.4,37.5 113,33.5 114.8,30.5 115.9,29.5 120,27.3 127,25.3 129,25.2 143,26.5 144,26.2 149,22.8 159,13.8 160.4,11.5 161.8,6.5 163.5,4.5ZM337.8,34.5 341,33.6 344,33.7 349,34.9 355,37.2 360,40.3 368.6,47.5 375,52.1 376.2,53.5 376.5,55.5 374.8,60.5 374.9,62.5 378.8,68.5 379.4,70.5 379.8,73.5 379.7,76.5 379,79.9 377.7,83.5 376,86.9 371,93.9 364,101.8 360,105.1 355,107.7 349,109.7 342,110.9 337,110.5 328,108 319,104.8 315,102.1 312.3,99.5 310,96.7 305,88.5 302.8,82.5 302,77.5 302,72.5 302.6,67.5 304,63.5 306.7,59.5 309.6,56.5 314,52.8 323,48.9 325,46.8 330.1,39.5 333,37.1 337.8,34.5ZM384.6,178.5 387,177.9 391,178.6 394.9,180.5 396.1,181.5 397.1,183.5 398,183.7 400,182.5 405,185.7 409,189.4 415.4,197.5 417.2,200.5 418.7,204.5 419,206 419,216.6 417.7,222.5 415.7,228.5 415.1,237.5 414.2,242.5 412.9,246.5 410.3,252.5 408.9,257.5 407,259.3 405,260.2 403,260.5 401,260.4 392,258.6 388,256.7 385,254.3 382.8,251.5 380.8,247.5 375.4,228.5 375,225.5 375.3,216.5 374.5,207.5 375,204.5 377.7,195.5 378.2,190.5 378,189.4 377,187.4 373.7,184.5 375.1,183.5 380,181.3 384.6,178.5ZM115.1,202.5 118,202.7 120,203.1 122,204 124.4,205.5 128,208.9 133,215.8 135,218 138,220.1 146,224.6 150.3,227.5 155.8,232.5 159.1,236.5 160.1,238.5 161,241.1 163.1,252.5 166.5,265.5 170,284.9 172,289.7 173.4,291.5 175,292.4 178,292.8 182,292.4 196,288.8 206,287 212,287.2 219,289.2 223,290.9 228,293.7 240,302 246,306.8 254,314.6 257,315.4 263,315.7 265,316.4 266,317.4 266.3,318.5 266.2,322.5 267.3,326.5 269,329.2 270,329.8 271,329.8 274,327.9 278,324.2 282,319.5 289.4,309.5 294,304.9 299,301.8 310,297.6 313,295.5 315,292.8 319.2,285.5 321,283.2 323,281.2 328,277.9 332,276 336,275 341,274.8 348,275.7 355,277.5 360,279.9 362.2,281.5 364.2,283.5 366.7,287.5 367.6,290.5 368.1,293.5 368.4,301.5 368,304.5 367,307.5 365,311.3 362.1,315.5 352,327.4 348,336 345.2,339.5 332.6,349.5 322,354.1 316,355.9 310,356.9 301,357.6 294,359.3 291,359.7 286,359.2 277,356.9 274,356.8 271,357.6 262,361.5 258,362.7 245,364.4 237,365.9 233,366.2 230,365.9 228,365.3 226,364.2 220.9,360.5 218,359.2 215,358.7 207,359.2 204,358.7 202,358 198,355.7 192,350.8 190,349.8 188,349.3 185,349.3 182,350.2 174,354.5 171.1,355.5 169,355.6 166,354.8 160.3,351.5 151.1,344.5 132,327.5 129.1,323.5 125.9,315.5 123.8,312.5 121,310.5 111,305.7 108,303.6 105.7,301.5 104,299.5 102,296.2 98.6,287.5 95,280.5 93.4,276.5 92.4,272.5 92,268.5 91.9,253.5 92.8,247.5 95.8,235.5 96.6,225.5 97.7,220.5 99.3,216.5 100.9,213.5 105.5,207.5 108,205.2 110,204 112,203.1 115.1,202.5Z"/>
<path fill="#f4522d" fill-rule="evenodd" d="M176.8,4.5 177.5,3.5 207.6,3.5 208.2,5.5 208.6,8.5 208,13.5 207,16 205.5,18.5 203.8,20.5 202,22 200,23.1 198,23.8 196,24 193,23.6 191,22.8 189,21.4 184.3,15.5 177.3,8.5 176.3,6.5 176.8,4.5ZM119.9,30.5 125,29.8 127,30.1 127.8,30.5 132.5,35.5 134.2,38.5 134.4,40.5 133.4,43.5 129,49.7 128,50.7 127,51.1 120,51.2 118,50.6 114.6,45.5 113.1,42.5 112.9,39.5 115,34.6 117,32 119.9,30.5ZM338.6,37.5 342,36.9 345,37.3 350,38.8 354,40.5 358,43 366,49.6 371.3,53.5 372.1,54.5 372.7,56.5 371.3,61.5 371.2,62.5 376.3,68.5 377.1,70.5 377.4,72.5 377.3,75.5 376.8,78.5 375.7,81.5 374,85 370,90.7 362.4,99.5 358.9,102.5 354,105 348,107 342,108 336.2,107.5 328,105.2 321,102.6 317,99.9 312,94.5 307.5,87.5 305.5,81.5 304.6,75.5 304.6,70.5 305.4,66.5 307.4,62.5 310.5,58.5 313.5,55.5 316,53.7 322.3,51.5 324.2,50.5 326,48.7 329,44.5 332,41.4 335,39.2 338.6,37.5ZM104.4,58.5 107,58.8 109,59.7 111.1,61.5 114,65.4 116.8,69.5 118.8,73.5 120.2,77.5 121.4,82.5 122,86.5 122.1,90.5 121.7,93.5 121,96.5 119.1,100.5 117,103.4 115,105 113,105.8 111,105.7 106,101.9 100,99.5 98.8,97.5 96.1,91.5 94.2,85.5 93.9,82.5 94,79.5 94.2,77.5 95,74.7 96.2,72.5 99.9,67.5 101,61.5 102,59.5 103,58.8 104.4,58.5ZM386.5,191.5 389,190.6 392,190.6 397,191.6 402,193.6 406,196.4 409,199.4 410.9,202.5 412.1,205.5 412.9,209.5 412.9,214.5 412.3,218.5 410.6,226.5 409.7,240.5 408.8,244.5 406,253.7 405,255.1 404,255.6 401,255.6 398,254.6 392,251.4 389.6,249.5 388,247.6 386.8,245.5 383.5,235.5 382,229.5 381.2,222.5 380.6,213.5 380.6,208.5 381.3,202.5 383,195.9 384.3,193.5 386.5,191.5ZM112.3,207.5 115,207 117,207.1 119,207.8 121,209 124.5,212.5 129.1,220.5 130.8,222.5 133,224 141,228 144,229.8 147.3,232.5 150.6,236.5 152.6,240.5 153.7,244.5 155.9,265.5 157,271.5 158.2,276.5 159.6,280.5 161.8,285.5 167,296.1 169,298.9 170,299.7 171,299.9 178,300.3 189,302 193,301.8 200,300.1 203,299.7 209,299.6 215,300.3 222,302.1 229,304.6 244,312.4 257.8,321.5 259.6,323.5 260.6,325.5 264,334.5 264.9,338.5 264.7,349.5 264.2,351.5 262.8,353.5 258.8,356.5 254,358.6 241,361.9 234,362.7 231,362.5 229,361.9 221.9,358.5 218,357.3 215,357 208,357.5 203.5,356.5 201,355.3 199,354 194,348.9 192,347.3 190,346.3 188,345.6 185,345.5 182,346.1 179,347.2 172,350.9 170,351.3 168,351.1 166,350.3 164,349.1 156,341.9 146,335.4 134.6,326.5 131.5,322.5 128.3,314.5 126.2,311.5 123.4,309.5 117,306.5 112,303.6 109,301.3 106,298.1 103.3,293.5 100.6,286.5 96.7,278.5 95.5,274.5 95.1,268.5 96.4,249.5 100.9,223.5 102.6,218.5 105.4,213.5 109,209.5 112.3,207.5ZM341.6,279.5 346,279.6 351,280.5 355,282 358.9,284.5 362.5,288.5 364.3,291.5 365.7,295.5 366.3,299.5 365.9,304.5 364,309.1 359.7,315.5 352.3,323.5 350,326.5 348.6,329.5 347.1,334.5 345.9,336.5 344,338.4 331.7,348.5 329,349.7 318,353.1 313,354 302,355.2 295,356.7 292,356.9 289,356.6 286,355.8 283.2,354.5 280.4,352.5 278.7,350.5 277.8,348.5 275.4,339.5 275.1,337.5 275.3,335.5 276,333.5 279.4,328.5 291,315.3 294,312.5 297,310.4 300,308.9 303,307.9 315,306.3 317,305.8 319,304.7 320.9,302.5 323.2,293.5 324.6,290.5 326.7,287.5 331,283.5 334,281.5 338,280 341.6,279.5Z"/>
<path fill="#f24b39" fill-rule="evenodd" d="M189.2,4.5 190.4,3.5 198.8,3.5 200,4.5 201.4,6.5 202,8.5 202,10.7 201,11.8 197,10.7 194,10.8 191,11.7 190,11.4 188.7,9.5 188.2,7.5 188.6,5.5 189.2,4.5ZM119.9,35.5 122,35.1 125,35.6 127,36.7 128.5,38.5 129,40.5 128.7,42.5 127.5,44.5 126,45.9 124,46.5 122,46.5 120,45.5 118.4,43.5 117.5,40.5 117.6,38.5 118.6,36.5 119.9,35.5ZM339.8,40.5 342,40.3 345,40.7 349,42 353,43.7 357,46.4 368,55.4 368.8,56.5 369,57.5 368.1,62.5 369.4,64.5 373.6,68.5 374.5,70.5 374.9,73.5 374.8,75.5 374,78.5 371.6,83.5 365.7,91.5 360,97.8 356.4,100.5 352,102.6 346,104.4 341,105 335,104.2 326,101.5 321.6,99.5 317.8,96.5 313,90.9 309.8,85.5 307.9,79.5 307.2,72.5 307.6,68.5 308.6,65.5 310.9,61.5 314.2,57.5 316,55.9 318,54.7 325.2,52.5 327,50.9 330.2,46.5 333,43.9 336.8,41.5 339.8,40.5ZM106.6,71.5 108,71.5 109,71.9 110.9,73.5 112.7,76.5 113.7,79.5 114.1,83.5 113.7,89.5 112.9,92.5 112,93.8 111,94.3 109,94.3 107,93.5 106,92.7 100.5,86.5 99,83.7 98.4,81.5 98.3,78.5 100,75.7 104,72.5 106.6,71.5ZM390.9,199.5 393,198.8 395,198.7 397,199.3 399.2,200.5 401.4,202.5 403,204.5 404.5,207.5 405.3,210.5 405.6,216.5 404,237.6 403,241.5 402,243.7 401,244.9 399,246 397,245.9 395.7,245.5 394.2,244.5 393,242.9 390.8,237.5 389,230 387.1,215.5 387,209.5 388,203.3 389,201.3 390.9,199.5ZM112.8,212.5 114,212.1 116,212.3 119,213.9 121.3,216.5 125.6,223.5 128,226.2 131,228.5 139,233.5 141,235.1 142.1,236.5 143.6,239.5 144.6,243.5 145.4,257.5 146.1,264.5 147.5,272.5 149.2,278.5 150.5,281.5 152.4,284.5 160,293.2 164.3,299.5 166,301.3 169,303 175,304.1 177,304.8 179,306 180.6,307.5 182,309.5 184,314.5 185,316 187,317.5 189,318.1 191,318.2 194,317.6 203,314 207,312.8 211,312.1 214,312 236,315.6 243,317.4 249,319.7 251.3,321.5 254.2,325.5 256.1,329.5 259.6,338.5 259.9,340.5 259.1,344.5 258,347.5 256,350.5 253,353.1 248.6,355.5 243,357.6 237,358.9 234,359.1 231,358.8 222,356 218,355.2 215,355.2 210,355.8 207,355.5 204,354.5 200.7,352.5 198.8,350.5 194,343.6 192,341.7 189,339.9 185,339.2 176,340.6 173,340.3 171,339.1 167.4,333.5 165,330.8 164,330.5 163,330.7 158,333 156,333.6 154,333.8 151,333.4 148,332.3 144,330.2 139,326.9 136.1,324.5 134.4,322.5 133,320.2 132,317.5 131,312.6 129.8,310.5 127,308.5 121,306.2 117.7,304.5 111,299.5 107.2,295.5 105.5,292.5 102.8,285.5 99.4,278.5 98.4,275.5 98.3,270.5 100.1,259.5 100.4,246.5 102,235.4 103,230.6 104.9,223.5 107,218.7 110,214.6 112.8,212.5ZM343,283.5 347,283.5 351,284.4 355,286.2 358,288.4 360.1,290.5 362,293.6 363.5,297.5 364.2,301.5 364,303.5 363,306.3 359,313 356,316.5 347.2,325.5 346.4,327.5 345.3,333.5 344.3,335.5 338,340.4 331,347.1 328,348.4 318,350.7 305,352.3 294,354.4 292,354.3 289,353.5 285,351.2 283,349.2 281.3,346.5 279.7,342.5 278.9,339.5 278.8,337.5 279.2,335.5 280.1,333.5 282.3,330.5 293,319.4 296,316.9 299,315.1 302,313.9 306,313.2 318,313 320.4,312.5 322.3,311.5 323.4,310.5 324.6,308.5 327.5,296.5 328.7,293.5 330.6,290.5 333,287.8 336,285.7 339,284.4 343,283.5Z"/>
<path fill="#ee4446" fill-rule="evenodd" d="M337.6,44.5 341,43.7 343,43.8 346,44.5 351,46.4 355.5,49.5 363.9,56.5 364.7,57.5 365.2,59.5 364.6,62.5 364.7,63.5 365.5,64.5 370.6,68.5 371.8,70.5 372.2,72.5 371.8,76.5 370,80.5 364,88.6 359,94.3 356,96.9 352,99.2 348,100.6 343,101.5 337,101.3 331,100 325,97.6 321,95 316.6,90.5 313.3,85.5 311.3,80.5 310.2,74.5 310.2,70.5 311.1,66.5 313,62.5 316,58.6 319,56.4 321,55.7 326,54.6 327,54 332.8,47.5 335,45.9 337.6,44.5ZM113.2,220.5 115,220.1 116,220.5 118,222.1 124,229 130.4,235.5 132.8,239.5 133.5,242.5 132.9,250.5 133.6,255.5 139.5,282.5 141,287.5 143,291.4 144.1,292.5 146,293.4 153,295.5 156,296.9 158,298.3 161.3,302.5 164,304.9 167,306.3 173,307.5 174.8,309.5 175.5,311.5 175.8,313.5 175.6,322.5 174.8,325.5 173,327.2 171,327.8 169,327.9 167,327.5 164,326.2 162,326.1 160,326.6 154,328.8 151,329.1 148,328.4 144,326.7 139,323.5 137,321.7 135.4,319.5 134.5,316.5 134.6,314.5 135.3,312.5 135.4,310.5 134.9,308.5 133.5,306.5 132,305.4 130,304.8 123,304.1 121,303.5 111.3,295.5 108.7,292.5 105.4,283.5 101.9,276.5 101.6,273.5 102.3,270.5 104.8,264.5 105.6,261.5 105.4,258.5 104.3,251.5 104.1,247.5 104.6,242.5 105.8,235.5 107,231.4 109,226.2 111,222.7 113.2,220.5ZM343,287.5 347,287.3 350,287.9 353,289.2 356,291.2 358.1,293.5 360.4,297.5 361.3,300.5 361.2,303.5 359,308.5 357,311.6 355,314 350,318.7 341.7,324.5 339.8,326.5 339.4,327.5 340.5,331.5 340,333.4 336,337.8 331.5,343.5 329.3,345.5 326.7,346.5 318,348 306,349.2 295,351.8 293,351.6 291,350.9 287.5,348.5 285,345.5 283,341.6 282.2,338.5 282.7,336.5 284.7,333.5 288,330.1 296,322.8 300,320.1 303,319.2 307,318.9 311,319.2 317.4,320.5 324,322.2 329,323.9 333,326.2 335,328.5 336.3,328.5 337.1,327.5 336.9,326.5 335.6,323.5 334.1,315.5 332.2,311.5 331.2,308.5 330.6,304.5 330.7,301.5 332.2,296.5 335,292.1 337,290.2 339,288.9 343,287.5ZM226.6,323.5 233,322.9 239,323.3 243.5,324.5 246.5,326.5 247.8,328.5 248.7,330.5 251.3,339.5 251.4,341.5 251,343.5 250.2,345.5 248.9,347.5 246,350.5 243,352.5 239,354.2 235,354.9 230,354.8 218,352.8 215,353 211,353.7 209,353.7 206,352.6 204.2,351.5 202.2,349.5 201.1,347.5 200.4,345.5 199.9,342.5 200.3,335.5 201.4,332.5 202.7,330.5 204.6,328.5 207,326.7 212,324.4 217,323.5 224,323.8 226.6,323.5Z"/>
<path fill="#ec3d53" fill-rule="evenodd" d="M338.5,47.5 342,47.1 346,48 350,49.7 353.9,52.5 360.6,58.5 361.3,60.5 361.5,63.5 363.3,65.5 367.4,68.5 368.7,70.5 369.2,72.5 368.9,75.5 367.4,78.5 360,88.1 357,91.5 354,94 351,95.7 347,97.2 343,97.9 338,97.9 332,96.7 327,94.7 323,92.1 319.4,88.5 316.6,84.5 314.4,79.5 313.4,74.5 313.3,70.5 314.2,66.5 316,62.5 318,59.9 319.7,58.5 321.6,57.5 327,56.3 328.6,55.5 334,50.1 336,48.7 338.5,47.5ZM114.2,233.5 116,233.1 117.3,233.5 119,234.8 121.1,237.5 121.9,239.5 122.2,241.5 122,244.5 121.1,248.5 120,256.2 118.9,258.5 118,259.3 117,259.7 115,259.4 114,258.3 110,251 109.1,247.5 109.5,243.5 111,238.4 112.4,235.5 114.2,233.5ZM117,267.5 120,266.5 121,266.7 123,267.9 125.8,271.5 127.4,275.5 128.3,281.5 128.1,286.5 127.4,289.5 126.5,291.5 125,293.7 124,294.4 123,294.6 122,294.4 119.2,292.5 116,291.3 114,290 112.2,287.5 110.8,283.5 109.2,276.5 109.1,274.5 109.4,273.5 110.7,271.5 112,270.2 114,268.9 117,267.5ZM344.1,291.5 346,291.2 348,291.4 350,292 352.6,293.5 354.7,295.5 356.2,297.5 357.2,299.5 357.6,301.5 357.5,303.5 356.9,305.5 355.8,307.5 352.9,311.5 349,315.1 347,316.1 345,316.5 343,316.1 342,315.5 340,313.4 336.5,307.5 335.5,303.5 336,299.5 336.8,297.5 338,295.6 341,292.8 344.1,291.5ZM145.7,307.5 148,307.2 153,307.5 155,308 157,309 160.4,311.5 162.1,313.5 162.6,315.5 162,317.5 160.1,319.5 155.9,322.5 153,324.1 151,324.7 148,324.3 142.2,321.5 138.6,318.5 137.6,316.5 137.7,315.5 140,311.9 142,309.6 144,308.1 145.7,307.5ZM303.4,326.5 307,326.2 311,327.2 317,329.5 325,333.4 327,334.8 328.4,336.5 328.8,338.5 328.2,340.5 327.4,341.5 326,342.5 323,343.3 309,344.4 296,347.4 293,346.7 291,345.1 289.1,342.5 288.4,339.5 289,337.5 291.3,334.5 295,331.3 300,328 303.4,326.5ZM222.1,330.5 225,330.2 229,330.8 232,331.7 235.1,333.5 237.4,336.5 238.9,340.5 238.9,343.5 238.1,345.5 237,346.8 235,348.2 233,349 230,349.7 225,349.9 218,349.3 211,349.9 209,349.3 208,348.5 207,346.5 207.1,344.5 208,342.4 212,336.9 214.2,334.5 218,332 222.1,330.5Z"/>
<path fill="#e8365f" fill-rule="evenodd" d="M340.7,50.5 344,50.9 347,51.9 350,53.7 353.5,56.5 357.3,60.5 357.8,61.5 358.1,64.5 359,65.6 364,68.8 365.2,70.5 365.7,72.5 365.4,74.5 364,77.2 356,86.8 353,89.8 350,91.7 347,92.9 344,93.7 340,94 335.8,93.5 331,92.1 327,90.1 323.8,87.5 321,84.2 318.8,80.5 317.5,76.5 316.9,71.5 317.2,68.5 318,65.5 319.5,62.5 321.3,60.5 324,59 329.8,57.5 336,52.1 338,51.1 340.7,50.5ZM344.6,296.5 347,296.1 349,296.6 351.3,298.5 352.1,299.5 352.9,301.5 352.9,303.5 351.6,306.5 349,309.3 347,310.3 345,309.9 343.2,308.5 341.2,305.5 340.6,303.5 340.6,301.5 341.4,299.5 343,297.5 344.6,296.5Z"/>
<path fill="#e62f6c" fill-rule="evenodd" d="M337.6,54.5 340,53.9 342,53.9 345,54.7 348.3,56.5 352.7,60.5 353.9,62.5 355.1,65.5 359.1,68.5 360.8,70.5 361.1,71.5 360.9,73.5 360,75.1 352,84.3 348,87.3 344,88.7 341,89 337,88.8 333,87.7 330,86.2 327,83.9 324.8,81.5 323,78.4 321.7,74.5 321.3,71.5 321.5,68.5 322.1,65.5 323.2,63.5 325.4,61.5 331,59.4 335,56 337.6,54.5Z"/>
<path fill="#e22879" fill-rule="evenodd" d="M337.8,57.5 340,57 342,57.2 345,58.2 347,59.5 349.8,62.5 351.6,66.5 353.4,68.5 354.4,70.5 354.5,71.5 353.7,73.5 348.7,79.5 346,81.5 342,82.8 340,83 337,82.6 334,81.6 332.2,80.5 329,77.3 327.9,75.5 326.9,72.5 326.8,68.5 327.9,65.5 334.4,59.5 337.8,57.5Z"/>
<path fill="#e02186" fill-rule="evenodd" d="M340,60.5 343,61.2 345,62.4 346.6,64.5 347.1,66.5 346.2,70.5 345,72.6 343,74.3 340,75.1 338,74.8 335.8,73.5 334.3,71.5 333.8,69.5 334.1,67.5 334.8,65.5 334.9,63.5 335.4,62.5 337,61.2 340,60.5Z"/>
<path fill="none" stroke="#140400" stroke-opacity="0.5" stroke-width="1.15" stroke-linejoin="round" d="M396.8,3.5 401,7.4 407,11.5 414,17.5 419,21.2M51,28 63,31 74,34.6 82,37.7 87,38.3 88,37.7 88.5,36.5 90.5,28.5 92.7,22.5 95.3,17.5 98.2,14.5 105,11.3 112,9.4 116,8.9 126,8.9 136,7 139,5.8 141.6,3.5M419,339.9 412,343.7 402.6,350.5 397,353.4 392,355 384,356.3 379,357.4 373,359.5 371.7,360.5 370,363.2 368.8,366.5 367.6,371.5M114.3,371.5 109,369.3 104,368.4 100,368.4 89,369.6 83,369.3 76,367.8 64,363.8 60,363.1 53,362.9 51,362.4M390.9,3.5 398,9.7 407,16.4 419,26M51,30.4 56,31.5 62,33.2 72,36.5 81,40 84,40.5 87,40.3 89,39 89.9,37.5 92.1,28.5 94.9,21.5 97.4,17.5 100,15.2 106,12.2 113,10.3 117,9.8 126,9.8 136,8 139.8,6.5 142.9,3.5M419,333.3 415,334.3 410.6,336.5 406,339.8 398.2,346.5 395,348.3 388,350.7 381,351.7 377,352.6 373,353.9 369.9,355.5 367.5,357.5 365.3,360.5 364.1,363.5 362.8,369.5 361.8,371.5M133.1,371.5 128,370.2 120,370.2 116,369.7 114,369.1 108,366.2 104,365.3 100,365.3 90,366.7 84,366.4 78,364.9 68.1,361.5 55,358.6 51,357.3M385.1,3.5 393.5,10.5 409.3,22.5 419,31.6M51,32.8 55,33.6 70,38.1 80,42 84,42.4 87,41.9 89,40.8 90.8,38.5 93.5,28.5 95.4,23.5 98,19.1 101,16.2 107,13.1 113,11.3 117,10.8 127,10.5 137,8.7 139,7.9 141,6.7 144.1,3.5M419,329.7 411,330.9 407,332.1 402.8,334.5 394,341.5 390,343.9 386,345.5 375,348.3 369,351.1 364.6,354.5 361,358.5 359.1,361.5 356.3,367.5 353.8,371.5M159.1,371.5 154,370.4 151,370.1 138,370.6 136,370 132,368.2 129,367.6 117,367.7 114,366.8 108,363 104,362 99,362 90,363.6 86,363.4 82,362.4 63.6,356.5 56,353.5 51,351M379.1,3.5 407,24.9 410.6,28.5 416,35.8 419,38.6M51,35.3 55,36.1 68,39.8 79,43.9 83,44.2 86,43.8 89,42.3 91.5,39.5 92.4,37.5 94.7,28.5 96.3,24.5 99.4,19.5 102.9,16.5 108,13.8 113,12.3 117,11.8 127,11.4 137,9.6 139,8.9 141.4,7.5 143.7,5.5 145.3,3.5M419,326.2 416,326.9 408,327.1 403,328.4 399,330.5 386,339.7 382,341.5 373,344.6 369.5,346.5 363,351.4 356.6,357.5 353,362.5 347.8,371.5M167.8,371.5 162,370.7 152,368.6 146,368.3 139,368.4 138,368.2 135,366.1 133,365.3 119,365.3 116,365 114,363.9 110,360.2 108,359.3 105,358.7 97,358.2 94,358.6 90,359.7 87.8,359.5 76,355.6 68.4,353.5 62,349.3 54,344.7 52.7,343.5 51,341.2M372.4,3.5 379,7.8 390,16.4 400,23.5 404,26.7 406.6,29.5 408.6,32.5 410.2,36.5 412,42.4 413,44.1 415,45.2 419,46.1M51,38.2 55,39 67,42.1 78,45.8 82,46.1 86,45.4 89.5,43.5 92.2,40.5 93.2,38.5 95.6,29.5 97.1,25.5 100.2,20.5 103.5,17.5 108,15 113,13.4 117,12.7 128,12.1 134,11.2 138,10.2 141,8.8 142.8,7.5 146.5,3.5M419,321.7 417,322.6 415,323 405,323.7 402,324.3 399,325.4 395,327.8 384,336 380,338.1 372,341.4 368.4,343.5 361,349.4 352.4,357.5 348,363.5 343.4,371.5M175.7,371.5 171,370.5 162,369.5 153,367.2 141,365.9 139,365.2 135,362.9 127,362.9 119,362.2 117,361.5 112.4,357.5 110.2,356.5 99.7,354.5 97,353.5 93,351.3 84,351.4 81,350.6 78,349.2 75.7,347.5 72,343.4 66,340.7 63,338.5 61.4,336.5 57.9,330.5 56.9,326.5 56.9,320.5 55.4,310.5 54.6,298.5 54,295.5 53.1,293.5 51,291.5M364,3.5 370,6.2 375.5,9.5 388,19.2 397,25.5 401,28.7 403.5,31.5 405.4,35.5 406.3,39.5 406.5,47.5 407,49.3 408,51.2 410,53.3 412,54.4 414,54.7 419,54.5M51,41.3 62,43.6 77,47.9 82,48 86,47 90,44.8 93,41.5 94.3,38.5 96.8,29.5 98,26.4 101,21.5 104.2,18.5 109,15.8 113,14.5 118,13.7 129,12.9 134,12.1 138,11 141,9.8 143,8.5 145.2,6.5 147.8,3.5M419,316.2 416,318.2 413,319.3 401,320.8 397,322 393,324.5 382,333.1 371,338.6 367,341.1 363,344.3 349.6,356.5 345.1,362.5 339.6,371.5M181.8,371.5 172,369.3 162,368.3 154,366 144,364.3 141,363.5 136,361.3 128,361 122,359.8 118,358.2 113.8,355.5 111,354.1 102,352.1 99,350.8 93,347.5 84,345.7 82,345 79,343.3 69.5,336.5 67,333.8 64.9,330.5 63.3,326.5 61,315.5 59.5,302.5 58.6,298.5 57.1,294.5 55.4,291.5 53.5,289.5 51,287.9M323.6,3.5 326,5.4 329,6.1 332,5.6 337.3,3.5M352,3.5 363,7 368,9.2 372,11.3 376,14 386,21.9 397.8,30.5 400.4,33.5 401.9,36.5 402.9,40.5 403.7,48.5 404.4,51.5 406,56 407.9,59.5 409,60.7 411,61.6 414,62 419,61.9M51,44.7 59,46 75,50.1 81,50.1 86,48.7 89,47.1 91,45.6 93.8,42.5 95.2,39.5 98,29.7 99,27.1 102,22.3 104.9,19.5 110,16.6 114,15.4 118,14.7 131,13.5 135,12.8 139,11.6 142,10.2 144.4,8.5 146.5,6.5 149,3.5M419,309.3 417.6,311.5 416,313.2 414,314.7 412,315.7 407,317.1 398,318 394.4,319.5 389.9,322.5 381,329.9 371,335.4 366,338.7 347.4,355.5 342.6,361.5 335.8,371.5M187.7,371.5 183,370 177,368.8 171,367.9 165,367.6 161,366.9 154,364.8 144,362.5 137,360 130,359.6 127,359 119,355.9 111,351.8 102,349.3 94,344.4 85,341.2 78,337.5 75.4,335.5 72.6,332.5 70,328.8 68.3,325.5 64.7,312.5 64.1,303.5 62.6,298.5 57.3,289.5 55.3,287.5 51,284.2M317.9,3.5 323,8.6 326,10.1 328,10.4 331,10 340,6.4 343,6 346,6.1 351,7 360,9.7 366,12.1 371,14.7 393.3,31.5 395.6,33.5 397.4,35.5 399,38.5 400,41.4 402.5,56.5 404,61.3 405.2,63.5 407,65.1 409,65.9 413,66.6 419,67.1M51,48.1 57,49 68,52.1 72,52.9 75,53 79,52.6 85,50.9 88,49.4 91,47.3 94.6,43.5 96.2,40.5 99,30.8 100.3,27.5 103,23.2 106,20.4 110,17.9 114.1,16.5 119,15.6 132,14.3 136,13.4 140,12.1 143,10.6 145,9.2 147.8,6.5 150.3,3.5M419,279.8 416.8,283.5 415.7,286.5 415.7,289.5 417,299.5 416.8,303.5 415.4,307.5 413.3,310.5 410.7,312.5 407,314.1 404,314.8 397,315.4 391.8,317.5 387,320.6 378.9,327.5 371,332.2 366,335.6 362,339 353.7,347.5 345.6,354.5 340.4,360.5 334,368.9 331.6,371.5M192.8,371.5 188,369.5 184,368.4 171,366.7 162,366 138,358.7 131,358.2 129,357.7 118,353.2 111,349.3 104,347.2 102.4,346.5 95,340.4 89.5,337.5 85.5,334.5 81.8,331.5 79,328.3 76,323.5 72.1,314.5 70.9,310.5 69.7,303.5 68.6,300.5 67.3,298.5 63.2,293.5 59.4,287.5 54,282 51,279.4M312.5,3.5 321,11.4 323,12.7 325,13.5 327,13.9 330,13.7 333,12.8 340,9.9 343,9.4 346,9.6 351,10.6 360,13.5 365.1,15.5 370,18.2 374,21 392,35.2 394,37.1 396,39.6 397.8,43.5 398.7,47.5 399.1,51.5 399.1,59.5 399.6,64.5 400.6,67.5 402,69.4 404,70.8 407,71.7 419,72.2M51,51.9 55.1,52.5 66,56.2 70,57 73,56.8 76,56.2 81,54.6 85,53 91,49.1 93.9,46.5 95.5,44.5 97.7,40.5 101.4,28.5 104,24.3 107,21.4 111,18.9 115,17.5 120,16.6 132,15.2 140,13.1 143,11.7 146,9.6 149.2,6.5 151.6,3.5M419,273.7 414.5,281.5 413,285.5 412.6,289.5 413.4,297.5 413.3,301.5 412.2,305.5 410.3,308.5 408,310.5 405,312 402,312.8 395.3,313.5 391,314.8 387,316.7 383,319.4 376.9,324.5 367,331.8 362,336 353.3,345.5 344,353.5 332,366.7 326.7,371.5M197.7,371.5 190,368.1 186,366.9 181,366.2 167,365.6 163,365.1 160,364.4 154,362.2 140,357.6 137,357 130.7,356.5 118.7,351.5 112,347.1 104.2,343.5 101.9,341.5 99.5,338.5 98.3,336.5 96.4,331.5 92.3,325.5 88.2,318.5 83.4,313.5 81,310.5 79.4,307.5 76.7,300.5 75,297.7 72.7,295.5 67,292.5 66,291.5 63.3,286.5 58.8,280.5 56.9,278.5 53,275.5 51,273.5M307.4,3.5 310.2,6.5 319,14.1 322,16 325,17.3 327,17.6 330,17.3 340,13.3 342,12.9 345,12.9 350,13.8 359,16.8 365,19.3 369,21.6 391,39 393,40.8 395,43.6 396.2,46.5 396.7,50.5 396.4,53.5 394.6,60.5 394.6,65.5 395.9,71.5 398,74.8 403,79.2 406,80.5 409,80.5 416,78.3 419,78.5M51,57.1 56,58.1 65,62.1 68,62.9 71,62.7 75,61 87,54 92,50.1 95.7,46.5 97.3,44.5 98.9,41.5 102,31.5 103.2,28.5 106,24.5 109,21.8 113,19.6 117,18.3 133,16 141,13.7 144,12.2 147,10 150.6,6.5 152.9,3.5M211,104.4 206,105.5 198.8,107.5 191,110.3 188,111.9 185,113.9 183,115.8 181.8,117.5 180.9,119.5 180.2,122.5 180,128.5 181.3,142.5 182.6,147.5 184.1,151.5 187.6,157.5 191,161.5 201,169.5 206,172.4 209,173 212,173.2 223,172.4 226,173 234,175.4 238,176.1 241,176 244,175 246.6,173.5 249.2,171.5 256.9,163.5 259.1,160.5 261,156.4 261.6,152.5 261,148.5 258.9,141.5 255.7,133.5 246.9,117.5 244.4,114.5 241,111.8 238,110 234,108.2 223,104.9 217,104.1ZM419,268.4 417,270.5 415.7,272.5 410.2,284.5 409.5,288.5 409.9,297.5 409.6,301.5 408.7,304.5 406.8,307.5 404.2,309.5 402.1,310.5 400,311 394,311.4 390,312.1 385,314 381,316.5 376,320.6 360.5,334.5 358,337.1 353.9,342.5 351,345.6 342.7,352.5 329,365.6 321.2,371.5M203.7,371.5 199,369.8 191,366.3 187,365 183,364.6 168,364.7 161,363.5 141,356.1 138,355.4 131,354.6 125,351.9 120,350.1 118,349 113,344.8 106.7,340.5 104.6,338.5 103.1,336.5 101.6,333.5 98,324.4 96,320.5 93,316 87.8,309.5 85.3,305.5 81,292.5 79.3,288.5 78.2,286.5 77,285.5 70,282.1 68,280.3 64,275.3 58,272.1 53.4,268.5 51,267.2M302.4,3.5 308,9.2 316.5,16.5 321,19.6 325,21.4 327,21.7 329,21.4 339,17 341,16.5 344,16.3 347,16.7 350.4,17.5 362,21.7 366,23.8 370,26.5 381.9,36.5 390,42.2 392,44.1 393,45.5 394,47.5 394.3,50.5 393.6,53.5 390.9,60.5 390.7,63.5 391.2,67.5 392.4,72.5 393.9,76.5 396,80.4 399.2,84.5 399.6,85.5 399.5,86.5 399,87.5 395,91.3 394,93.1 393.6,95.5 393.9,100.5 393.2,102.5 392.5,103.5 389.7,105.5 383,108.4 380.4,110.5 368.7,123.5 367.5,125.5 367.3,127.5 367.7,128.5 369,129.5 372,130.6 379,134.2 383,135.5 390,136.3 401,135.9 412,136.2 416,136.8 419,138M51,64.4 53,64.7 55.4,65.5 62,69.6 65,70.8 67,71.1 69,70.8 72,69.5 76,66.4 90,53.9 97.7,46.5 99.1,44.5 100.7,41.5 103.5,32.5 104.7,29.5 106.6,26.5 109.6,23.5 113,21.2 117.3,19.5 122,18.5 133,17 142,14.4 145,12.8 149.1,9.5 152.2,6.5 154.3,3.5M209,85.4 202,86.3 196.2,87.5 191,89 186,91 180.8,93.5 174,97.5 167,102.6 164,104.1 162,106.3 156.1,119.5 154.6,127.5 154.5,132.5 155.4,139.5 157.2,146.5 160,153.5 165,163.2 169.1,169.5 174,174.6 178,177.5 186,181.9 192.9,189.5 196.4,192.5 200,194.7 205,196.7 214,198.3 231,202.4 238,203.4 243,203.7 249,203.5 256,202.6 270,200.3 273,199.5 275,198.7 276.5,197.5 278.2,195.5 280,191.5 282.6,180.5 283,172.5 281.9,163.5 279.8,154.5 277.2,147.5 272.3,138.5 259.9,118.5 252,104.9 245,97.1 239,91.2 236.8,89.5 234,88.1 227,86 218,84.8ZM411.5,94.5 413,93.9 415,94 416.1,94.5 417,95.5 417.2,96.5 416.8,98.5 414.7,100.5 412,101.6 408,102 405,101.4 403.6,100.5 403,99.8 402.8,98.5 404,97.5 408,96.8ZM51,128 58,128.4 61,127.8 63,126.9 65.1,125.5 67.1,123.5 68.3,121.5 68.8,119.5 68.6,117.5 67.5,113.5 66.4,111.5 65,110.5 62,109.6 59,109.2 51,110.1M419,264.2 415.5,267.5 413.8,269.5 410,277.8 406.9,283.5 406.3,285.5 405.9,288.5 406.1,297.5 405.9,300.5 405.1,303.5 403.1,306.5 401,308.1 399,308.8 392,308.7 387,309.4 383,310.8 380,312.7 373,318.9 366.9,325.5 358.7,333.5 356.9,335.5 352.7,341.5 349,345.4 327,363.7 322,367.2 314.7,371.5M212.8,371.5 210,370.5 202,368.7 191,363.9 187,362.8 183,362.7 171,363.8 167,363.6 163,362.8 142,354.6 139,353.7 132,352.4 120,347.8 108.6,336.5 105,331.6 104,329.5 102.8,323.5 101.5,320.5 99.6,317.5 93.1,309.5 90.3,305.5 88.6,301.5 85,290.1 83,286 81,283.1 78,280.3 72,276.3 66,271.4 51,263.1M296.8,3.5 300.2,7.5 311.4,17.5 318,22.5 323,25.1 326,25.8 329,25.6 338,20.9 341,20 343,19.8 346,20 350,21 357,23.4 361.9,25.5 368.2,29.5 381.4,40.5 389,45.4 390.9,47.5 391.6,49.5 391.1,52.5 388.2,58.5 387.4,61.5 387.8,65.5 390.7,78.5 391.3,83.5 389.8,91.5 389.6,95.5 389,97.1 388,98.2 379,104.2 370,112.7 363,118.3 358,121 352,123 347,123.8 340,123.2 333,123.2 328,122 322.9,119.5 320,118.6 316,118.2 313,118.9 310.7,120.5 310.1,121.5 309.8,123.5 310.4,126.5 312.6,130.5 315,132.9 319,135.2 327,137.7 335,141.7 346,145.2 351,146.1 355,146.3 364,145 369,145 374,145.8 383,148.4 395,148.5 401,149 405,149.8 409,151.1 419,155.8M197,72.4 191,73.8 184,76.6 179,79.4 166.9,87.5 157,92.3 154,94.2 152.7,95.5 152,97 152.3,103.5 151.8,105.5 151,107.4 149,110 143,115 141.2,117.5 140.3,119.5 140,121.5 140.3,125.5 143.8,146.5 147.1,160.5 149.2,179.5 151,185.5 154,190.5 158.1,195.5 170,208.7 175,212.7 179,215 182,216.1 186,216.6 200,215 205,215.5 213,218.2 226.3,224.5 231,225.8 240,226.6 256,226.2 261,227.1 264,227.3 277,226.7 287,225.3 296,223.3 302,221.3 306.8,218.5 310.1,215.5 313,211.6 315,207.8 316.4,203.5 317.4,197.5 317.6,191.5 317,188 315,182.5 310.8,174.5 303,164.5 300.3,160.5 293.9,146.5 279.8,127.5 268,113.1 262.1,101.5 256,93.3 249.8,83.5 247,80.2 243.9,77.5 240,75.3 235,73.7 228,73 217,73.7 205,72.2 201,72.1ZM51,161 56,159.5 65.8,157.5 75,154.5 79.9,151.5 83,148.9 85.7,145.5 87,142.2 88,137.5 88.2,132.5 87.9,126.5 87,120.3 85.3,116.5 78.9,106.5 75.8,98.5 72,91.5 71,88.5 70.8,86.5 71.4,83.5 74.2,76.5 76,73.5 88.1,58.5 99,47.5 100.6,45.5 102.6,41.5 106.3,30.5 108.2,27.5 111.1,24.5 114,22.4 118.5,20.5 123,19.5 134,17.9 143,15.1 147,12.7 152,8.5 153.9,6.5 155.8,3.5M419,260.2 416,262.9 412.1,267.5 407,275.3 402.8,280.5 401.6,282.5 400.8,284.5 400.3,287.5 400.8,296.5 400.6,299.5 400.1,301.5 399,303.2 398,303.9 396,304.4 390,304 387,304.2 383,305.1 381,306.1 379,307.9 370,318.1 364.8,324.5 357,332.6 355,335.2 351.7,340.5 347.9,344.5 337,353.4 325,362 320,365.1 307.4,371.5M217.9,371.5 215,369.1 213,368.1 205,367.1 202,366.4 198,364.8 191,361.4 188,360.4 184,360.5 171,362.8 168,362.7 164,361.8 160.3,360.5 143,352.8 132.5,349.5 122,345 120.3,343.5 118.7,341.5 112.7,332.5 111.1,328.5 109.7,322.5 108.7,320.5 106.9,318.5 98.6,310.5 96.1,307.5 94,304.5 92.2,300.5 90,293.3 88.5,289.5 85.3,283.5 82,278.9 78,274.9 72,270.8 68,267.7 65,266 59.3,263.5 53,259.9 51,258.3M291.9,3.5 296,10.4 299,14.3 308,24.3 310,26.1 312,27.4 314,28.1 321,29.8 325,30 328,29.5 330,28.8 337,24.9 340,23.6 344,23.3 348,24 357,27.1 363,30 367.8,33.5 377.1,41.5 384.9,46.5 387.1,48.5 387.9,50.5 387.6,52.5 384.6,59.5 384.2,61.5 384.5,63.5 386.5,71.5 387.2,76.5 387.3,81.5 386.6,85.5 384.6,90.5 381.5,95.5 378.1,99.5 372,105.7 368,109.3 361.2,114.5 357,116.7 353,118.1 348,119.2 342,119.4 336,119 331,118 318,113.1 308,110.5 303.8,108.5 301.4,106.5 299.2,103.5 298.3,101.5 296,94.6 294,92 292,90.5 290,89.6 281,88 277,86.3 275,84.5 273.5,82.5 272,79.5 270.1,73.5 269,71.7 267.8,70.5 262.9,67.5 247,59.5 231,52.2 226,50.9 222,51.2 212.3,53.5 200,55.9 195,57.3 190,59.3 186,61.4 181,64.8 173,71.1 161.5,82.5 152,90.1 150,92.4 148.9,95.5 148.8,100.5 148,103.5 146,106 140.1,109.5 139,110.5 137.8,112.5 136.2,116.5 134.9,121.5 134.4,126.5 133.9,143.5 134.1,154.5 133.1,157.5 131.8,159.5 130,160.8 128,161.2 122,159.8 112,156 108,153.3 104.8,149.5 102.3,144.5 98,132.6 94,124.2 90.1,114.5 83,103.6 80.8,99.5 77.7,89.5 77.3,85.5 77.7,81.5 78.4,78.5 80.2,74.5 90.2,59.5 94.2,54.5 101,48.1 103,45.5 104.7,41.5 107.8,31.5 109,29.5 111.7,26.5 115.4,23.5 120,21.5 124,20.5 134,19.2 144,16.1 147,14.3 154.1,8.5 155.7,6.5 157.2,3.5M308,31.5 306,32 303,33.6 300.8,35.5 298.3,38.5 296.1,42.5 294.9,45.5 294.5,48.5 295,49.7 296,50.3 299,50.4 304,49.6 307,48.7 310,47 314.4,43.5 316.3,41.5 316.7,40.5 316.5,38.5 315.6,36.5 314,34.3 311,31.8ZM287,58.3 285,58.9 283,60.2 280,63.5 279.3,65.5 279.3,66.5 279.6,67.5 280.7,68.5 283,69.4 286,69.6 288,69.1 290,67.5 290.5,66.5 290.7,64.5 290,61.2 289,59.2 288,58.4ZM51,212.7 53,212.1 56,212.1 64,213.8 67,214.1 70,213.8 72,213.2 79,209.2 87,203 90.4,199.5 96.9,190.5 99,188.5 102,186.4 106,184.9 110,184.2 118,183.9 124,184.4 129,185.8 131,186.8 134,188.9 140.6,195.5 161,213 166,218 176,228.9 178,230.4 181,232 184,232.9 187,233.3 191,233.3 200,232.5 205,233.3 212,235.6 231,243.9 237,245.7 243,246.9 249,247.6 254,247.7 275,246.2 282,245.1 293,242.7 306,241 310,240 314,238.4 318,236.4 323,232.9 332.3,225.5 344,215.4 345.6,212.5 345.8,210.5 345.7,209.5 343.8,206.5 336,199.4 333.2,195.5 332.2,192.5 329.8,181.5 329,176.5 329,173.5 329.3,171.5 330.1,169.5 332.6,166.5 338,162.3 347.7,156.5 353,154.3 360,153 366,152.4 373,152.8 395,156.1 400,157.2 409,160.2 419,164.7M419,255.8 415,259.5 410,266.3 407,269.6 405,271.3 402,272.9 394,274.2 391.7,275.5 390.1,278.5 387.7,286.5 386.3,289.5 384.6,291.5 378,296.4 376.5,298.5 375.4,305.5 374.2,308.5 372.4,311.5 364,322.3 355.7,331.5 349.9,340.5 346,344.3 336,352.2 323,360.5 317,363.5 307,367.3 301,370.4 297,371.1 286,370.9 279.6,371.5M221.8,371.5 217,366.7 215,365.3 213,364.8 206,364.9 202,364.2 198,362.6 191,358.6 189,357.8 187,357.7 184,358.1 171,361.7 168,361.5 164.4,360.5 159.6,358.5 135,346.5 126.2,340.5 123,337.3 120.2,332.5 118.9,328.5 117.8,321.5 116.8,318.5 116,317.4 114.7,316.5 109,314 105,311.6 101.3,308.5 98.6,305.5 95.6,300.5 92.7,291.5 91.3,288.5 85,277.4 80,269.9 77,266.6 72,262.7 69,261 61.2,257.5 58.1,255.5 55,252.6 51,247.6M223.8,3.5 223.1,14.5 222.3,18.5 216.6,30.5 214.2,34.5 212,36.8 209,38.6 206,39.8 195,43 190,45.4 185,48.4 180,52.1 173.6,58.5 165,66.1 153.1,82.5 148,87.4 146.6,89.5 145.4,93.5 145.6,99.5 145,101 143.2,102.5 138,105.2 136.5,106.5 135,108.5 133,113.2 127.2,132.5 125,137.1 124,138.5 122,140.3 120,141.2 118,141.6 115,141.1 113,140.3 111,139.1 109,137.3 106.8,134.5 96,118.2 92,109.5 86,100 83.9,95.5 82.4,90.5 81.8,86.5 81.7,82.5 82.2,79.5 84.7,73.5 93.5,58.5 97,54.2 103,49.2 105,46.8 109.4,32.5 111,29.9 114,26.7 117,24.5 121.8,22.5 125,21.8 134,20.7 145,17.3 148,15.4 155.6,9.5 157,7.6 158.8,3.5M285.2,3.5 287,5.1 288.1,6.5 289.2,9.5 290.1,14.5 290.1,26.5 289.4,30.5 288.1,34.5 287,36.8 285.5,38.5 280,42.6 277,44.1 274,45.3 268,46 264,45.7 260,44.9 255,43.3 249,40.7 246,39.2 243,37 241,34.9 239.4,32.5 236.6,22.5 236.2,19.5 237.3,16.5 241.4,8.5 243.4,5.5 245.3,3.5M338.8,27.5 342,26.7 346,27.1 354,29.6 360,32.2 365,35.6 375.5,44.5 382,48.7 383.5,50.5 384,52.5 383.6,54.5 381.2,60.5 381.3,62.5 383.9,70.5 384.6,76.5 384.4,79.5 383.9,82.5 381.8,87.5 375.3,97.5 370,103.4 366,107 360,111.4 356,113.5 351,115.2 345,116.2 338,116 332,114.9 314,108.2 309,105.5 306,102.7 304,99.7 300.3,90.5 295.7,83.5 294.5,79.5 295,75.5 297.6,68.5 298.3,61.5 299.1,59.5 300.4,57.5 303,55.2 310,51.2 314,48.2 321.4,44.5 322.5,43.5 323.1,42.5 323.2,38.5 324,36.5 324.8,35.5 327,33.9ZM419,250.7 416.6,253.5 413,257 411.5,260.5 410,262.7 408,264.9 405,267.2 403,267.9 401,268.1 395,267.1 392,267.2 385,268.8 383,269.5 381.6,270.5 381,272.5 381.9,279.5 381.7,282.5 380.4,285.5 376,291.4 374,295.3 373.2,298.5 372.3,305.5 370.2,310.5 363.8,319.5 355,329.6 353,332.6 350.4,337.5 348.1,340.5 345,343.4 336,350.5 322,358.5 318,360.3 313,361.9 303,364 296,366.2 292,366.6 283,366.5 279,366.8 275,367.6 264,370.8 258.2,371.5M226.8,371.5 225,370.7 223.3,369.5 218.6,364.5 216,362.6 214,362.2 207,362.9 202,362.1 198,360.3 190,355.2 188,354.8 185,355.2 173.9,359.5 170,360.3 167,359.8 163.5,358.5 151.9,352.5 143.7,347.5 139.5,344.5 137.6,342.5 134,337.3 129,334 126.3,331.5 123.9,327.5 121,317.5 119.2,314.5 117.5,313.5 110,310.9 107,309.3 103,306.1 100,302.6 97.3,297.5 94.7,289.5 89.3,279.5 86.5,273.5 83.7,264.5 80.6,256.5 79.8,251.5 80.4,247.5 84,239.8 85.1,236.5 85.8,232.5 86.3,223.5 87.9,217.5 89.4,214.5 91.3,211.5 97,204.8 102,198.1 104,196.3 107,194.3 110,192.9 113,192.2 116,191.9 120,192.1 124,193 127,194.2 130,196 133,198.3 144,208.3 155,216.8 161,221.9 167,228.5 170.7,234.5 174,238.7 176,240.7 179,243 183,244.9 189,246.4 195,247.4 203,247.9 209,249.4 215.7,252.5 226,259.1 230,261.2 238,264.3 252,268.6 258,269.5 266,270.1 271,270.2 275,269.9 279,268.5 286,262.5 288,261.1 290,260.3 293,260.4 300,262.4 306,261.9 313,260.2 334,252.9 339,252.1 342,252.4 345,253.7 347,255.4 351.9,260.5 354.9,262.5 362.6,265.5 366,266.4 368,266.5 370,266 370.7,265.5 371.1,264.5 370.8,262.5 369.4,260.5 365,258.5 363,256.5 362.1,253.5 362.1,251.5 363,247.5 362.6,245.5 361,242.9 359,241.1 355,238.5 354.8,237.5 359,230.9 362,224.2 363.2,220.5 363.2,217.5 360.6,211.5 359.8,208.5 359.9,205.5 360.9,200.5 360,198.9 354.1,194.5 351.7,191.5 350.6,189.5 345,175.7 344,174.5 342,173.8 341,173 340.4,171.5 340.6,170.5 342,169.9 346,169.6 349,168.4 353,165.5 355,162.5 357,161.5 365,160.1 379,160.1 395,163 402,164.9 408.9,167.5 413.1,169.5 416.3,171.5 419,174.1M255.7,371.5 247,371.2 243,371.5M217.9,3.5 217.6,11.5 216.2,17.5 212.8,24.5 211,27.1 209,29.2 207,30.7 204,32 201,32.7 196,33.1 193,33.9 187,35.9 182.1,38.5 175,43.9 167,52.8 158.5,59.5 154,63.8 147,68 144.3,70.5 142.6,73.5 140.6,79.5 140,82.5 138.6,92.5 137.8,95.5 136.4,97.5 134,100.1 131.9,103.5 129.7,108.5 127.6,115.5 122,125.1 119,128.6 117,129.8 115,130.2 113,129.8 112,129.1 100,116 98.5,113.5 95.9,107.5 89,96.6 87,91.5 85.8,85.5 85.9,80.5 87,76.5 90.1,69.5 94.8,60.5 96.7,57.5 99.6,54.5 105.7,50.5 107.5,48.5 108.1,46.5 108.6,41.5 110.5,34.5 111.9,31.5 114,29 118,25.9 123,23.9 127,23.1 135,22.4 144,20.1 146,19.2 148,18.1 157,11 158.6,8.5 159.5,5.5 160.9,3.5M257.7,10.5 261,9.9 264,10.3 266.2,11.5 267.5,13.5 267.4,20.5 266,23.2 264,24.5 261,25.1 257,24.7 254.8,23.5 253.3,21.5 252.7,18.5 253.5,14.5 255,12.3ZM339.8,30.5 343,30.1 346,30.6 353,32.8 358,35 362,37.6 371.4,45.5 379,50.9 380.1,52.5 380.2,54.5 378.3,59.5 377.8,61.5 378.1,62.5 381.2,68.5 381.8,71.5 382.1,74.5 381.5,80.5 380.5,83.5 379.1,86.5 377,90.1 373.2,95.5 366,103.5 361,107.6 355,110.7 348,112.8 342,113.6 336,113 329,111.1 318,107.1 314.9,105.5 312,103.4 308.2,99.5 305,94.1 300,83.5 299.2,80.5 298.9,77.5 299.2,73.5 300.9,64.5 302,61.5 304.1,58.5 307.5,55.5 314,50.7 321,47.6 322.7,46.5 325,43.7 327,38.9 329,36.6 335,32.7ZM111.6,198.5 115,197.8 119,197.9 123,198.9 126,200.4 131,204.3 137,210.8 140,213.6 152,221.9 157,225.8 162,230.5 165.5,234.5 166.4,236.5 169.3,245.5 170.6,248.5 173,251.7 177,255 181,256.7 189,258.6 193,259.3 200,259.9 202.3,260.5 205.8,262.5 219,271.9 241.9,285.5 242.8,286.5 243,289.5 244,290.1 253,294 256,295 258,295.3 263,294.8 264.5,295.5 264.9,296.5 264.8,299.5 265.2,301.5 269,307.9 270.6,311.5 271.2,314.5 270.8,318.5 271,319.5 272,320.2 273,320.3 274,319.9 275.5,318.5 277,316.6 280,311.8 283.1,303.5 285,299.5 288,295.5 293,290.6 303.4,282.5 314,276.5 322,271.3 328,268.4 334,266.9 338,267.1 347,270.8 354,272.1 360,273.9 368,277.5 370,278.7 372,280.5 372.9,282.5 372.9,284.5 371.2,293.5 370.3,303.5 368.8,308.5 367.2,311.5 363.7,316.5 353.6,328.5 349,337.1 346,340.7 336,348.8 333,350.8 322,356.2 318,357.8 314,358.9 308,359.8 300,360.2 295,362.1 291,362.8 287,362.8 280,362 277,362.2 273,363.1 264,366.2 260,367.2 256,367.5 246,367.6 237,369.2 233,369.5 229,369.1 226,368 219.9,362.5 218,361.3 216,360.5 214,360.3 209,360.9 206,360.9 201,359.7 197.1,357.5 192,353.5 189,352.3 187,352.1 184,352.7 174,357.3 171,358.3 168,358.1 165,357.1 161.8,355.5 153.5,350.5 146.4,345.5 142,341.5 136.9,335.5 130,329.7 127,325.6 123.6,316.5 122.5,314.5 121,312.9 118.7,311.5 110,307.9 107,306 104,303.4 101.7,300.5 100,297.5 96.7,288.5 92.5,280.5 90.4,275.5 88.7,268.5 87.4,258.5 87.2,253.5 88.1,247.5 91.9,235.5 92.3,225.5 93.2,220.5 94.6,216.5 96.2,213.5 102.9,204.5 107,200.7 109,199.5ZM419,241.6 416.7,247.5 412,254.7 409.9,259.5 407,262.4 404,263.8 401,264 386,262.2 382,260.4 375,255.1 372,253.5 372.3,252.5 373.8,250.5 374,249.5 370.4,231.5 369.5,228.5 369.4,225.5 370,218.5 369.8,214.5 369,211.9 366.8,208.5 366.3,206.5 367,204.5 371.1,196.5 371.7,193.5 371.1,192.5 370,192.1 362,190.6 360.8,189.5 360.3,187.5 360.7,184.5 362,182.2 363.6,180.5 369,175.8 371,174.9 373,174.4 378,174.2 380,173.8 384,171.2 387,170 392,169.6 397,170.3 401,171.3 405,173 408,174.9 410,176.6 412.6,179.5 419,189.5M212.9,3.5 213.3,6.5 213.2,10.5 212.6,13.5 211.7,16.5 210.3,19.5 208.4,22.5 206.5,24.5 204,26.3 201,27.6 198,28.2 193,28.4 189,28.2 184,26.9 180.8,25.5 175,22.2 173,22 171,23.4 167.3,27.5 164,30.3 161,32.1 155.5,34.5 153.9,35.5 153.2,36.5 153,37.5 152.9,41.5 152.4,43.5 151.3,45.5 150.3,46.5 144,48.6 141,50.6 138,53.6 132,56 128,56.7 123,56.1 122,56.1 121,56.5 120.2,57.5 119.9,58.5 120.2,60.5 125.6,71.5 127,75.5 128.9,83.5 129.6,88.5 129.2,92.5 128.1,96.5 126.1,101.5 122.8,108.5 121,111.3 119,113 117,113.9 111,114.3 109,114 107,113.4 105,112.1 104,111 103.3,109.5 103.1,106.5 102.5,105.5 99,103.6 96.8,101.5 92.6,94.5 90.4,88.5 89.8,82.5 90.6,76.5 92.4,71.5 95.7,65.5 97.7,60.5 99.7,57.5 102,55.7 105,54.4 111,52.8 112.3,51.5 112.6,50.5 112.4,49.5 110.6,43.5 110.6,40.5 111.4,37.5 113,33.5 114.8,30.5 115.9,29.5 120,27.3 127,25.3 129,25.2 143,26.5 144,26.2 149,22.8 158.4,14.5 160.4,11.5 162,6.1 164.9,3.5M337.8,34.5 341,33.6 344,33.7 349,34.9 355,37.2 360,40.3 368.6,47.5 375,52.1 376.2,53.5 376.5,55.5 374.8,60.5 374.9,62.5 378.8,68.5 379.4,70.5 379.8,73.5 379.7,76.5 379,79.9 377.7,83.5 376,86.9 371,93.9 364,101.8 360,105.1 355,107.7 349,109.7 342,110.9 337,110.5 328,108 319,104.8 315,102.1 312.3,99.5 310,96.7 305,88.5 302.8,82.5 302,77.5 302,72.5 302.6,67.5 304,63.5 306.7,59.5 309.6,56.5 314,52.8 323,48.9 325,46.8 330.1,39.5 333,37.1ZM115.1,202.5 118,202.7 120,203.1 122,204 124.4,205.5 128,208.9 133,215.8 135,218 138,220.1 146,224.6 150.3,227.5 155.8,232.5 159.1,236.5 160.1,238.5 161,241.1 163.1,252.5 166.5,265.5 170,284.9 172,289.7 173.4,291.5 175,292.4 178,292.8 182,292.4 196,288.8 206,287 212,287.2 219,289.2 223,290.9 228,293.7 240,302 246,306.8 254,314.6 257,315.4 263,315.7 265,316.4 266,317.4 266.3,318.5 266.2,322.5 267.3,326.5 269,329.2 270,329.8 271,329.8 274,327.9 278,324.2 282,319.5 289.4,309.5 294,304.9 299,301.8 310,297.6 313,295.5 315,292.8 319.2,285.5 321,283.2 323,281.2 328,277.9 332,276 336,275 341,274.8 348,275.7 355,277.5 360,279.9 362.2,281.5 364.2,283.5 366.7,287.5 367.6,290.5 368.1,293.5 368.4,301.5 368,304.5 367,307.5 365,311.3 362.1,315.5 352,327.4 348,336 345.2,339.5 332.6,349.5 322,354.1 316,355.9 310,356.9 301,357.6 294,359.3 291,359.7 286,359.2 277,356.9 274,356.8 271,357.6 262,361.5 258,362.7 245,364.4 237,365.9 233,366.2 230,365.9 228,365.3 226,364.2 220.9,360.5 218,359.2 215,358.7 207,359.2 204,358.7 202,358 198,355.7 192,350.8 190,349.8 188,349.3 185,349.3 182,350.2 174,354.5 171.1,355.5 169,355.6 166,354.8 160.3,351.5 151.1,344.5 132,327.5 129.1,323.5 125.9,315.5 123.8,312.5 121,310.5 111,305.7 108,303.6 105.7,301.5 104,299.5 102,296.2 98.6,287.5 95,280.5 93.4,276.5 92.4,272.5 92,268.5 91.9,253.5 92.8,247.5 95.8,235.5 96.6,225.5 97.7,220.5 99.3,216.5 100.9,213.5 105.5,207.5 108,205.2 110,204 112,203.1ZM419,216.6 417.7,222.5 415.7,228.5 415.1,237.5 414.2,242.5 412.9,246.5 410.3,252.5 408.9,257.5 408,258.5 406,259.8 404,260.4 402,260.5 392,258.6 387.6,256.5 384,253.1 381.2,248.5 375.1,227.5 375.3,216.5 374.5,207.5 375,204.5 377.7,195.5 378.2,190.5 378,189.4 377,187.4 373.7,184.5 375.1,183.5 380,181.3 385,178.3 387,177.9 390,178.3 393.3,179.5 396.1,181.5 397.1,183.5 398,183.7 400,182.5 401,183 407,187.4 411,191.8 416.7,199.5 418.1,202.5 419,206M207.6,3.5 208.4,6.5 208.6,10.5 208,13.5 206.7,16.5 204.7,19.5 202,22 199,23.5 196,24 194,23.8 192,23.2 190,22.2 188.1,20.5 185,16.3 178.2,9.5 176.7,7.5 176.3,6.5 176.3,5.5 177.5,3.5M119.9,30.5 125,29.8 127,30.1 127.8,30.5 132.5,35.5 134.2,38.5 134.4,40.5 133.4,43.5 129,49.7 128,50.7 127,51.1 120,51.2 118,50.6 114.6,45.5 113.1,42.5 112.9,39.5 115,34.6 117,32ZM338.6,37.5 342,36.9 345,37.3 350,38.8 354,40.5 358,43 366,49.6 371.3,53.5 372.1,54.5 372.7,56.5 371.3,61.5 371.2,62.5 376.3,68.5 377.1,70.5 377.4,72.5 377.3,75.5 376.8,78.5 375.7,81.5 374,85 370,90.7 362.4,99.5 358.9,102.5 354,105 348,107 342,108 336.2,107.5 328,105.2 321,102.6 317,99.9 312,94.5 307.5,87.5 305.5,81.5 304.6,75.5 304.6,70.5 305.4,66.5 307.4,62.5 310.5,58.5 313.5,55.5 316,53.7 322.3,51.5 324.2,50.5 326,48.7 329,44.5 332,41.4 335,39.2ZM104.4,58.5 107,58.8 109,59.7 111.1,61.5 114,65.4 116.8,69.5 118.8,73.5 120.2,77.5 121.4,82.5 122,86.5 122.1,90.5 121.7,93.5 121,96.5 119.1,100.5 117,103.4 115,105 113,105.8 111,105.7 106,101.9 100,99.5 98.8,97.5 96.1,91.5 94.2,85.5 93.9,82.5 94,79.5 94.2,77.5 95,74.7 96.2,72.5 99.9,67.5 101,61.5 102,59.5 103,58.8ZM386.5,191.5 389,190.6 392,190.6 397,191.6 402,193.6 406,196.4 409,199.4 410.9,202.5 412.1,205.5 412.9,209.5 412.9,214.5 412.3,218.5 410.6,226.5 409.7,240.5 408.8,244.5 406,253.7 405,255.1 404,255.6 401,255.6 398,254.6 392,251.4 389.6,249.5 388,247.6 386.8,245.5 383.5,235.5 382,229.5 381.2,222.5 380.6,213.5 380.6,208.5 381.3,202.5 383,195.9 384.3,193.5ZM112.3,207.5 115,207 117,207.1 119,207.8 121,209 124.5,212.5 129.1,220.5 130.8,222.5 133,224 141,228 144,229.8 147.3,232.5 150.6,236.5 152.6,240.5 153.7,244.5 155.9,265.5 157,271.5 158.2,276.5 159.6,280.5 161.8,285.5 167,296.1 169,298.9 170,299.7 171,299.9 178,300.3 189,302 193,301.8 200,300.1 203,299.7 209,299.6 215,300.3 222,302.1 229,304.6 244,312.4 257.8,321.5 259.6,323.5 260.6,325.5 264,334.5 264.9,338.5 264.7,349.5 264.2,351.5 262.8,353.5 258.8,356.5 254,358.6 241,361.9 234,362.7 231,362.5 229,361.9 221.9,358.5 218,357.3 215,357 208,357.5 203.5,356.5 201,355.3 199,354 194,348.9 192,347.3 190,346.3 188,345.6 185,345.5 182,346.1 179,347.2 172,350.9 170,351.3 168,351.1 166,350.3 164,349.1 156,341.9 146,335.4 134.6,326.5 131.5,322.5 128.3,314.5 126.2,311.5 123.4,309.5 117,306.5 112,303.6 109,301.3 106,298.1 103.3,293.5 100.6,286.5 96.7,278.5 95.5,274.5 95.1,268.5 96.4,249.5 100.9,223.5 102.6,218.5 105.4,213.5 109,209.5ZM341.6,279.5 346,279.6 351,280.5 355,282 358.9,284.5 362.5,288.5 364.3,291.5 365.7,295.5 366.3,299.5 365.9,304.5 364,309.1 359.7,315.5 352.3,323.5 350,326.5 348.6,329.5 347.1,334.5 345.9,336.5 344,338.4 331.7,348.5 329,349.7 318,353.1 313,354 302,355.2 295,356.7 292,356.9 289,356.6 286,355.8 283.2,354.5 280.4,352.5 278.7,350.5 277.8,348.5 275.4,339.5 275.1,337.5 275.3,335.5 276,333.5 279.4,328.5 291,315.3 294,312.5 297,310.4 300,308.9 303,307.9 315,306.3 317,305.8 319,304.7 320.9,302.5 323.2,293.5 324.6,290.5 326.7,287.5 331,283.5 334,281.5 338,280ZM198.8,3.5 200.8,5.5 201.8,7.5 202,10.5 201,11.8 197,10.7 194,10.8 191,11.7 190,11.4 188.7,9.5 188.2,7.5 188.6,5.5 190.4,3.5M119.9,35.5 122,35.1 125,35.6 127,36.7 128.5,38.5 129,40.5 128.7,42.5 127.5,44.5 126,45.9 124,46.5 122,46.5 120,45.5 118.4,43.5 117.5,40.5 117.6,38.5 118.6,36.5ZM339.8,40.5 342,40.3 345,40.7 349,42 353,43.7 357,46.4 368,55.4 368.8,56.5 369,57.5 368.1,62.5 369.4,64.5 373.6,68.5 374.5,70.5 374.9,73.5 374.8,75.5 374,78.5 371.6,83.5 365.7,91.5 360,97.8 356.4,100.5 352,102.6 346,104.4 341,105 335,104.2 326,101.5 321.6,99.5 317.8,96.5 313,90.9 309.8,85.5 307.9,79.5 307.2,72.5 307.6,68.5 308.6,65.5 310.9,61.5 314.2,57.5 316,55.9 318,54.7 325.2,52.5 327,50.9 330.2,46.5 333,43.9 336.8,41.5ZM106.6,71.5 108,71.5 109,71.9 110.9,73.5 112.7,76.5 113.7,79.5 114.1,83.5 113.7,89.5 112.9,92.5 112,93.8 111,94.3 109,94.3 107,93.5 106,92.7 100.5,86.5 99,83.7 98.4,81.5 98.3,78.5 100,75.7 104,72.5ZM390.9,199.5 393,198.8 395,198.7 397,199.3 399.2,200.5 401.4,202.5 403,204.5 404.5,207.5 405.3,210.5 405.6,216.5 404,237.6 403,241.5 402,243.7 401,244.9 399,246 397,245.9 395.7,245.5 394.2,244.5 393,242.9 390.8,237.5 389,230 387.1,215.5 387,209.5 388,203.3 389,201.3ZM112.8,212.5 114,212.1 116,212.3 119,213.9 121.3,216.5 125.6,223.5 128,226.2 131,228.5 139,233.5 141,235.1 142.1,236.5 143.6,239.5 144.6,243.5 145.4,257.5 146.1,264.5 147.5,272.5 149.2,278.5 150.5,281.5 152.4,284.5 160,293.2 164.3,299.5 166,301.3 169,303 175,304.1 177,304.8 179,306 180.6,307.5 182,309.5 184,314.5 185,316 187,317.5 189,318.1 191,318.2 194,317.6 203,314 207,312.8 211,312.1 214,312 236,315.6 243,317.4 249,319.7 251.3,321.5 254.2,325.5 256.1,329.5 259.6,338.5 259.9,340.5 259.1,344.5 258,347.5 256,350.5 253,353.1 248.6,355.5 243,357.6 237,358.9 234,359.1 231,358.8 222,356 218,355.2 215,355.2 210,355.8 207,355.5 204,354.5 200.7,352.5 198.8,350.5 194,343.6 192,341.7 189,339.9 185,339.2 176,340.6 173,340.3 171,339.1 167.4,333.5 165,330.8 164,330.5 163,330.7 158,333 156,333.6 154,333.8 151,333.4 148,332.3 144,330.2 139,326.9 136.1,324.5 134.4,322.5 133,320.2 132,317.5 131,312.6 129.8,310.5 127,308.5 121,306.2 117.7,304.5 111,299.5 107.2,295.5 105.5,292.5 102.8,285.5 99.4,278.5 98.4,275.5 98.3,270.5 100.1,259.5 100.4,246.5 102,235.4 103,230.6 104.9,223.5 107,218.7 110,214.6ZM343,283.5 347,283.5 351,284.4 355,286.2 358,288.4 360.1,290.5 362,293.6 363.5,297.5 364.2,301.5 364,303.5 363,306.3 359,313 356,316.5 347.2,325.5 346.4,327.5 345.3,333.5 344.3,335.5 338,340.4 331,347.1 328,348.4 318,350.7 305,352.3 294,354.4 292,354.3 289,353.5 285,351.2 283,349.2 281.3,346.5 279.7,342.5 278.9,339.5 278.8,337.5 279.2,335.5 280.1,333.5 282.3,330.5 293,319.4 296,316.9 299,315.1 302,313.9 306,313.2 318,313 320.4,312.5 322.3,311.5 323.4,310.5 324.6,308.5 327.5,296.5 328.7,293.5 330.6,290.5 333,287.8 336,285.7 339,284.4ZM337.6,44.5 341,43.7 343,43.8 346,44.5 351,46.4 355.5,49.5 363.9,56.5 364.7,57.5 365.2,59.5 364.6,62.5 364.7,63.5 365.5,64.5 370.6,68.5 371.8,70.5 372.2,72.5 371.8,76.5 370,80.5 364,88.6 359,94.3 356,96.9 352,99.2 348,100.6 343,101.5 337,101.3 331,100 325,97.6 321,95 316.6,90.5 313.3,85.5 311.3,80.5 310.2,74.5 310.2,70.5 311.1,66.5 313,62.5 316,58.6 319,56.4 321,55.7 326,54.6 327,54 332.8,47.5 335,45.9ZM113.2,220.5 115,220.1 116,220.5 118,222.1 124,229 130.4,235.5 132.8,239.5 133.5,242.5 132.9,250.5 133.6,255.5 139.5,282.5 141,287.5 143,291.4 144.1,292.5 146,293.4 153,295.5 156,296.9 158,298.3 161.3,302.5 164,304.9 167,306.3 173,307.5 174.8,309.5 175.5,311.5 175.8,313.5 175.6,322.5 174.8,325.5 173,327.2 171,327.8 169,327.9 167,327.5 164,326.2 162,326.1 160,326.6 154,328.8 151,329.1 148,328.4 144,326.7 139,323.5 137,321.7 135.4,319.5 134.5,316.5 134.6,314.5 135.3,312.5 135.4,310.5 134.9,308.5 133.5,306.5 132,305.4 130,304.8 123,304.1 121,303.5 111.3,295.5 108.7,292.5 105.4,283.5 101.9,276.5 101.6,273.5 102.3,270.5 104.8,264.5 105.6,261.5 105.4,258.5 104.3,251.5 104.1,247.5 104.6,242.5 105.8,235.5 107,231.4 109,226.2 111,222.7ZM343,287.5 347,287.3 350,287.9 353,289.2 356,291.2 358.1,293.5 360.4,297.5 361.3,300.5 361.2,303.5 359,308.5 357,311.6 355,314 350,318.7 341.7,324.5 339.8,326.5 339.4,327.5 340.5,331.5 340,333.4 336,337.8 331.5,343.5 329.3,345.5 326.7,346.5 318,348 306,349.2 295,351.8 293,351.6 291,350.9 287.5,348.5 285,345.5 283,341.6 282.2,338.5 282.7,336.5 284.7,333.5 288,330.1 296,322.8 300,320.1 303,319.2 307,318.9 311,319.2 317.4,320.5 324,322.2 329,323.9 333,326.2 335,328.5 336.3,328.5 337.1,327.5 336.9,326.5 335.6,323.5 334.1,315.5 332.2,311.5 331.2,308.5 330.6,304.5 330.7,301.5 332.2,296.5 335,292.1 337,290.2 339,288.9ZM226.6,323.5 233,322.9 239,323.3 243.5,324.5 246.5,326.5 247.8,328.5 248.7,330.5 251.3,339.5 251.4,341.5 251,343.5 250.2,345.5 248.9,347.5 246,350.5 243,352.5 239,354.2 235,354.9 230,354.8 218,352.8 215,353 211,353.7 209,353.7 206,352.6 204.2,351.5 202.2,349.5 201.1,347.5 200.4,345.5 199.9,342.5 200.3,335.5 201.4,332.5 202.7,330.5 204.6,328.5 207,326.7 212,324.4 217,323.5 224,323.8ZM338.5,47.5 342,47.1 346,48 350,49.7 353.9,52.5 360.6,58.5 361.3,60.5 361.5,63.5 363.3,65.5 367.4,68.5 368.7,70.5 369.2,72.5 368.9,75.5 367.4,78.5 360,88.1 357,91.5 354,94 351,95.7 347,97.2 343,97.9 338,97.9 332,96.7 327,94.7 323,92.1 319.4,88.5 316.6,84.5 314.4,79.5 313.4,74.5 313.3,70.5 314.2,66.5 316,62.5 318,59.9 319.7,58.5 321.6,57.5 327,56.3 328.6,55.5 334,50.1 336,48.7ZM114.2,233.5 116,233.1 117.3,233.5 119,234.8 121.1,237.5 121.9,239.5 122.2,241.5 122,244.5 121.1,248.5 120,256.2 118.9,258.5 118,259.3 117,259.7 115,259.4 114,258.3 110,251 109.1,247.5 109.5,243.5 111,238.4 112.4,235.5ZM117,267.5 120,266.5 121,266.7 123,267.9 125.8,271.5 127.4,275.5 128.3,281.5 128.1,286.5 127.4,289.5 126.5,291.5 125,293.7 124,294.4 123,294.6 122,294.4 119.2,292.5 116,291.3 114,290 112.2,287.5 110.8,283.5 109.2,276.5 109.1,274.5 109.4,273.5 110.7,271.5 112,270.2 114,268.9ZM344.1,291.5 346,291.2 348,291.4 350,292 352.6,293.5 354.7,295.5 356.2,297.5 357.2,299.5 357.6,301.5 357.5,303.5 356.9,305.5 355.8,307.5 352.9,311.5 349,315.1 347,316.1 345,316.5 343,316.1 342,315.5 340,313.4 336.5,307.5 335.5,303.5 336,299.5 336.8,297.5 338,295.6 341,292.8ZM145.7,307.5 148,307.2 153,307.5 155,308 157,309 160.4,311.5 162.1,313.5 162.6,315.5 162,317.5 160.1,319.5 155.9,322.5 153,324.1 151,324.7 148,324.3 142.2,321.5 138.6,318.5 137.6,316.5 137.7,315.5 140,311.9 142,309.6 144,308.1ZM303.4,326.5 307,326.2 311,327.2 317,329.5 325,333.4 327,334.8 328.4,336.5 328.8,338.5 328.2,340.5 327.4,341.5 326,342.5 323,343.3 309,344.4 296,347.4 293,346.7 291,345.1 289.1,342.5 288.4,339.5 289,337.5 291.3,334.5 295,331.3 300,328ZM222.1,330.5 225,330.2 229,330.8 232,331.7 235.1,333.5 237.4,336.5 238.9,340.5 238.9,343.5 238.1,345.5 237,346.8 235,348.2 233,349 230,349.7 225,349.9 218,349.3 211,349.9 209,349.3 208,348.5 207,346.5 207.1,344.5 208,342.4 212,336.9 214.2,334.5 218,332ZM340.7,50.5 344,50.9 347,51.9 350,53.7 353.5,56.5 357.3,60.5 357.8,61.5 358.1,64.5 359,65.6 364,68.8 365.2,70.5 365.7,72.5 365.4,74.5 364,77.2 356,86.8 353,89.8 350,91.7 347,92.9 344,93.7 340,94 335.8,93.5 331,92.1 327,90.1 323.8,87.5 321,84.2 318.8,80.5 317.5,76.5 316.9,71.5 317.2,68.5 318,65.5 319.5,62.5 321.3,60.5 324,59 329.8,57.5 336,52.1 338,51.1ZM344.6,296.5 347,296.1 349,296.6 351.3,298.5 352.1,299.5 352.9,301.5 352.9,303.5 351.6,306.5 349,309.3 347,310.3 345,309.9 343.2,308.5 341.2,305.5 340.6,303.5 340.6,301.5 341.4,299.5 343,297.5ZM337.6,54.5 340,53.9 342,53.9 345,54.7 348.3,56.5 352.7,60.5 353.9,62.5 355.1,65.5 359.1,68.5 360.8,70.5 361.1,71.5 360.9,73.5 360,75.1 352,84.3 348,87.3 344,88.7 341,89 337,88.8 333,87.7 330,86.2 327,83.9 324.8,81.5 323,78.4 321.7,74.5 321.3,71.5 321.5,68.5 322.1,65.5 323.2,63.5 325.4,61.5 331,59.4 335,56ZM337.8,57.5 340,57 342,57.2 345,58.2 347,59.5 349.8,62.5 351.6,66.5 353.4,68.5 354.4,70.5 354.5,71.5 353.7,73.5 348.7,79.5 346,81.5 342,82.8 340,83 337,82.6 334,81.6 332.2,80.5 329,77.3 327.9,75.5 326.9,72.5 326.8,68.5 327.9,65.5 334.4,59.5ZM340,60.5 343,61.2 345,62.4 346.6,64.5 347.1,66.5 346.2,70.5 345,72.6 343,74.3 340,75.1 338,74.8 335.8,73.5 334.3,71.5 333.8,69.5 334.1,67.5 334.8,65.5 334.9,63.5 335.4,62.5 337,61.2Z"/>
</g>
<path d="M208.3,208 C211,207.5 212.5,209 213.5,211 C216,215 218,221 220.6,230 C222.5,236 225,241 224.5,246 C224,249.5 221,249.3 218,248.5 C214,247.5 210,243 207.6,239 C205,233 204,226 204,217 C204,212 205.5,208.5 208.3,208Z" fill="#84420f"/>
<circle cx="235" cy="187.5" r="181.5" fill="none" stroke="#140808" stroke-width="1.8" stroke-dasharray="4.6 3"/>
<path d="M221.0,83.5C225.5,84.3 229.8,86.4 232.7,89.3C235.6,92.2 236.2,97.0 238.5,100.9C240.8,104.8 243.3,108.7 246.2,112.5C249.1,116.3 252.3,119.8 255.8,124.0C259.3,128.2 263.5,133.4 267.4,137.6C271.3,141.8 274.5,145.3 279.0,149.2C283.5,153.0 289.2,156.5 294.4,160.7C299.5,164.9 305.3,170.0 309.9,174.2C314.5,178.4 317.9,181.3 322.0,186.0C326.1,190.7 332.0,197.2 334.5,202.5C337.0,207.8 338.2,212.5 337.0,217.5C335.8,222.5 331.2,227.8 327.0,232.5C322.8,237.2 317.6,241.6 312.0,246.0C306.4,250.4 299.7,255.0 293.5,259.0C287.3,263.0 280.6,267.6 275.0,270.0C269.4,272.4 265.4,272.9 260.0,273.7C254.6,274.5 247.9,275.4 242.5,275.0C237.1,274.6 231.7,273.5 227.5,271.0C223.3,268.5 220.8,265.2 217.5,260.0C214.2,254.8 210.2,247.9 207.5,240.0C204.8,232.1 203.2,219.6 201.0,212.5C198.8,205.4 197.2,202.1 194.5,197.5C191.8,192.9 188.7,189.2 185.0,185.0C181.3,180.8 176.7,176.5 172.5,172.3C168.3,168.1 163.4,164.2 160.0,160.0C156.6,155.8 153.9,151.9 152.0,147.2C150.1,142.5 148.9,136.5 148.6,131.8C148.3,127.1 148.6,123.0 150.0,119.0C151.4,115.0 153.2,111.3 157.0,107.5C160.8,103.7 167.5,99.2 173.0,96.0C178.5,92.8 184.6,90.5 190.0,88.5C195.4,86.5 200.4,85.0 205.6,84.2C210.8,83.4 216.5,82.7 221.0,83.5Z" fill="none" stroke="#140808" stroke-width="1.9" stroke-dasharray="9 6"/>
<circle cx="235.5" cy="187.5" r="4.3" fill="#000"/>
</g>
<g font-size="14.4" text-anchor="middle" style="fill:#2a0a05;stroke:#2a0a05">
<text x="219" y="30.2">225</text>
<text x="323.5" y="48.2">225</text>
<text x="154" y="69.2">230</text>
<text x="113" y="119.2">235</text>
<text x="74" y="160.2">215</text>
<text x="129" y="166.2">220</text>
<text x="195" y="173.2">205</text>
<text x="277" y="129.2">215</text>
<text x="355" y="152.2">215</text>
<text x="397" y="141.2">210</text>
<text x="281" y="192.2">210</text>
<text x="347" y="215.2">220</text>
<text x="130" y="227.2">240</text>
<text x="200" y="265.2">230</text>
<text x="279" y="274.2">225</text>
<text x="394.5" y="272.2">225</text>
<text x="72" y="276.2">215</text>
<text x="78" y="291.2">205</text>
<text x="77" y="306.2">200</text>
<text x="119" y="319.2">225</text>
<text x="78" y="332.2">195</text>
<text x="104" y="335.2">210</text>
<text x="184" y="320.2">245</text>
<text x="254" y="320.2">235</text>
<text x="376" y="304.2">220</text>
<text x="399.5" y="314.2">210</text>
<text x="134" y="351.2">220</text>
<text x="69" y="359.2">175</text>
<text x="93" y="356.2">180</text>
<text x="341" y="355.2">215</text>
</g>
<text x="211.8" y="235" font-size="13" text-anchor="middle" style="fill:#fff;stroke:#fff">Cu</text>
<rect x="53" y="5.5" width="364" height="364" fill="none" stroke="#000" stroke-width="1.2"/>
<path d="M53.00,369.50v6.5M53.00,369.50h-6.5M75.75,369.50v3.2M53.00,346.75h-3.2M98.50,369.50v6.5M53.00,324.00h-6.5M121.25,369.50v3.2M53.00,301.25h-3.2M144.00,369.50v6.5M53.00,278.50h-6.5M166.75,369.50v3.2M53.00,255.75h-3.2M189.50,369.50v6.5M53.00,233.00h-6.5M212.25,369.50v3.2M53.00,210.25h-3.2M235.00,369.50v6.5M53.00,187.50h-6.5M257.75,369.50v3.2M53.00,164.75h-3.2M280.50,369.50v6.5M53.00,142.00h-6.5M303.25,369.50v3.2M53.00,119.25h-3.2M326.00,369.50v6.5M53.00,96.50h-6.5M348.75,369.50v3.2M53.00,73.75h-3.2M371.50,369.50v6.5M53.00,51.00h-6.5M394.25,369.50v3.2M53.00,28.25h-3.2M417.00,369.50v6.5M53.00,5.50h-6.5" stroke="#000" stroke-width="1.2" fill="none"/>
<g font-size="15.2">
<text x="53.5" y="392.3" text-anchor="middle">-20</text>
<text x="43.3" y="374.9" text-anchor="end">-20</text>
<text x="99.0" y="392.3" text-anchor="middle">-15</text>
<text x="43.3" y="329.4" text-anchor="end">-15</text>
<text x="144.5" y="392.3" text-anchor="middle">-10</text>
<text x="43.3" y="283.9" text-anchor="end">-10</text>
<text x="190.0" y="392.3" text-anchor="middle">-5</text>
<text x="43.3" y="238.4" text-anchor="end">-5</text>
<text x="235.0" y="392.3" text-anchor="middle">0</text>
<text x="43.3" y="192.9" text-anchor="end">0</text>
<text x="280.5" y="392.3" text-anchor="middle">5</text>
<text x="43.3" y="147.4" text-anchor="end">5</text>
<text x="326.0" y="392.3" text-anchor="middle">10</text>
<text x="43.3" y="101.9" text-anchor="end">10</text>
<text x="371.5" y="392.3" text-anchor="middle">15</text>
<text x="43.3" y="56.4" text-anchor="end">15</text>
<text x="417.0" y="392.3" text-anchor="middle">20</text>
<text x="43.3" y="10.9" text-anchor="end">20</text>
</g>
<text transform="translate(236,421.3) scale(1.03,1)" font-size="17.5" text-anchor="middle">y (µm)</text>
<text transform="translate(13,187.2) rotate(-90) scale(1.05,1)" font-size="17" text-anchor="middle">z (µm)</text>
<rect x="431" y="354.50" width="23" height="15.20" fill="#648ffa"/>
<rect x="431" y="340.00" width="23" height="15.20" fill="#668ff8"/>
<rect x="431" y="325.50" width="23" height="15.20" fill="#6c8dee"/>
<rect x="431" y="311.00" width="23" height="15.20" fill="#788ada"/>
<rect x="431" y="296.50" width="23" height="15.20" fill="#8587c6"/>
<rect x="431" y="282.00" width="23" height="15.20" fill="#9184b2"/>
<rect x="431" y="267.50" width="23" height="15.20" fill="#9f819b"/>
<rect x="431" y="253.00" width="23" height="15.20" fill="#ae7d82"/>
<rect x="431" y="238.50" width="23" height="15.20" fill="#be7a69"/>
<rect x="431" y="224.00" width="23" height="15.20" fill="#cd7650"/>
<rect x="431" y="209.50" width="23" height="15.20" fill="#de7234"/>
<rect x="431" y="195.00" width="23" height="15.20" fill="#ee6e1c"/>
<rect x="431" y="180.50" width="23" height="15.20" fill="#f96b0a"/>
<rect x="431" y="166.00" width="23" height="15.20" fill="#ff6a00"/>
<rect x="431" y="151.50" width="23" height="15.20" fill="#fe6706"/>
<rect x="431" y="137.00" width="23" height="15.20" fill="#fa6013"/>
<rect x="431" y="122.50" width="23" height="15.20" fill="#f85920"/>
<rect x="431" y="108.00" width="23" height="15.20" fill="#f4522d"/>
<rect x="431" y="93.50" width="23" height="15.20" fill="#f24b39"/>
<rect x="431" y="79.00" width="23" height="15.20" fill="#ee4446"/>
<rect x="431" y="64.50" width="23" height="15.20" fill="#ec3d53"/>
<rect x="431" y="50.00" width="23" height="15.20" fill="#e8365f"/>
<rect x="431" y="35.50" width="23" height="15.20" fill="#e62f6c"/>
<rect x="431" y="21.00" width="23" height="15.20" fill="#e22879"/>
<rect x="431" y="6.50" width="23" height="15.20" fill="#e02186"/>
<rect x="431" y="6.5" width="23" height="362.5" fill="none" stroke="#1a1a2a" stroke-width="1.1"/>
<path d="M454,354.50h6.3M454,325.50h6.3M454,296.50h6.3M454,267.50h6.3M454,238.50h6.3M454,209.50h6.3M454,180.50h6.3M454,151.50h6.3M454,122.50h6.3M454,93.50h6.3M454,64.50h6.3M454,35.50h6.3M454,6.50h6.3" stroke="#222" stroke-width="1.1" fill="none"/>
<g font-size="14.3">
<text x="466" y="359.9">160</text>
<text x="466" y="330.9">170</text>
<text x="466" y="301.9">180</text>
<text x="466" y="272.9">190</text>
<text x="466" y="243.9">200</text>
<text x="466" y="214.9">210</text>
<text x="466" y="185.9">220</text>
<text x="466" y="156.9">230</text>
<text x="466" y="127.9">240</text>
<text x="466" y="98.9">250</text>
<text x="466" y="69.9">260</text>
<text x="466" y="40.9">270</text>
<text x="466" y="11.9">280</text>
</g>
<text transform="translate(515,185.8) rotate(-90) scale(1.04,1)" font-size="17.5" text-anchor="middle">Pressure (GPa)</text>
</svg></body></html>
